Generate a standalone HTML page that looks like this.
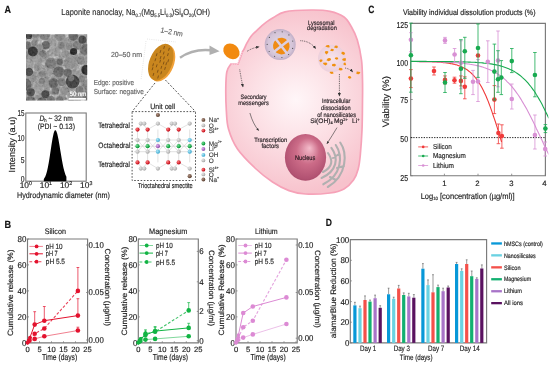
<!DOCTYPE html>
<html><head><meta charset="utf-8"><style>
html,body{margin:0;padding:0;background:#fff;width:550px;height:365px;overflow:hidden}
svg{display:block;font-family:"Liberation Sans", sans-serif}
text{stroke-width:0.16px}
svg{will-change:transform;text-rendering:geometricPrecision}
</style></head><body>
<svg width="550" height="365" viewBox="0 0 550 365">
<text x="4.5" y="12.8" font-size="10.50" text-anchor="start" fill="#111" stroke="#111" font-weight="bold" textLength="6.5" lengthAdjust="spacingAndGlyphs" >A</text>
<text x="4.4" y="227.5" font-size="10.50" text-anchor="start" fill="#111" stroke="#111" font-weight="bold" textLength="6.6" lengthAdjust="spacingAndGlyphs" >B</text>
<text x="368.2" y="12.9" font-size="10.50" text-anchor="start" fill="#111" stroke="#111" font-weight="bold" textLength="6.1" lengthAdjust="spacingAndGlyphs" >C</text>
<text x="325.7" y="226.4" font-size="10.50" text-anchor="start" fill="#111" stroke="#111" font-weight="bold" textLength="6.2" lengthAdjust="spacingAndGlyphs" >D</text>
<text x="61.3" y="14.9" font-size="8.72" fill="#333" stroke="#333" textLength="148.7" lengthAdjust="spacingAndGlyphs">Laponite nanoclay, Na<tspan font-size="4.83" dy="1.6">0.7</tspan><tspan dy="-1.6">(Mg</tspan><tspan font-size="4.83" dy="1.6">5.5</tspan><tspan dy="-1.6">Li</tspan><tspan font-size="4.83" dy="1.6">0.3</tspan><tspan dy="-1.6">)Si</tspan><tspan font-size="4.83" dy="1.6">8</tspan><tspan dy="-1.6">O</tspan><tspan font-size="4.83" dy="1.6">20</tspan><tspan dy="-1.6">(OH)</tspan></text>
<defs><clipPath id="temclip"><rect x="26" y="34.3" width="61.2" height="66.2"/></clipPath>
<filter id="noiseL" x="0" y="0" width="100%" height="100%"><feTurbulence type="fractalNoise" baseFrequency="0.18" numOctaves="3" seed="9"/><feColorMatrix type="matrix" values="0 0 0 0 0.85  0 0 0 0 0.85  0 0 0 0 0.85  3.0 0 0 0 -1.35"/></filter>
<filter id="noiseD" x="0" y="0" width="100%" height="100%"><feTurbulence type="fractalNoise" baseFrequency="0.4" numOctaves="2" seed="3"/><feColorMatrix type="matrix" values="1.6 0 0 0 -0.3  1.6 0 0 0 -0.3  1.6 0 0 0 -0.3  0 0 0 0 0.16"/><feGaussianBlur stdDeviation="0.4"/></filter>
<filter id="blur2" x="-30%" y="-30%" width="160%" height="160%"><feGaussianBlur stdDeviation="0.6"/></filter></defs>
<g clip-path="url(#temclip)">
<rect x="26" y="34.3" width="61.2" height="66.2" fill="#8c8c8c"/>
<rect x="26" y="34.3" width="61.2" height="66.2" filter="url(#noiseL)" opacity="0.75"/>
<g filter="url(#blur2)">
<circle cx="38.3" cy="88.3" r="4.9" fill="rgb(148,148,148)" fill-opacity="0.8" stroke="rgb(165,165,165)" stroke-width="0.7" stroke-opacity="0.5"/>
<circle cx="69.8" cy="63.0" r="6.3" fill="rgb(132,132,132)" fill-opacity="0.8" stroke="rgb(165,165,165)" stroke-width="0.7" stroke-opacity="0.5"/>
<circle cx="50.8" cy="63.4" r="5.8" fill="rgb(100,100,100)" fill-opacity="0.8" stroke="rgb(165,165,165)" stroke-width="0.7" stroke-opacity="0.5"/>
<circle cx="25.5" cy="84.6" r="6.3" fill="rgb(75,75,75)" fill-opacity="0.8" stroke="rgb(165,165,165)" stroke-width="0.7" stroke-opacity="0.5"/>
<circle cx="55.4" cy="90.7" r="3.9" fill="rgb(88,88,88)" fill-opacity="0.8" stroke="rgb(165,165,165)" stroke-width="0.7" stroke-opacity="0.5"/>
<circle cx="56.0" cy="50.9" r="4.5" fill="rgb(148,148,148)" fill-opacity="0.8" stroke="rgb(165,165,165)" stroke-width="0.7" stroke-opacity="0.5"/>
<circle cx="71.4" cy="102.5" r="3.8" fill="rgb(110,110,110)" fill-opacity="0.8" stroke="rgb(165,165,165)" stroke-width="0.7" stroke-opacity="0.5"/>
<circle cx="85.4" cy="49.4" r="5.8" fill="rgb(88,88,88)" fill-opacity="0.8" stroke="rgb(165,165,165)" stroke-width="0.7" stroke-opacity="0.5"/>
<circle cx="88.9" cy="85.0" r="6.2" fill="rgb(110,110,110)" fill-opacity="0.8" stroke="rgb(165,165,165)" stroke-width="0.7" stroke-opacity="0.5"/>
<circle cx="33.2" cy="78.2" r="3.6" fill="rgb(132,132,132)" fill-opacity="0.8" stroke="rgb(165,165,165)" stroke-width="0.7" stroke-opacity="0.5"/>
<circle cx="86.9" cy="95.9" r="4.9" fill="rgb(100,100,100)" fill-opacity="0.8" stroke="rgb(165,165,165)" stroke-width="0.7" stroke-opacity="0.5"/>
<circle cx="50.8" cy="100.1" r="4.3" fill="rgb(88,88,88)" fill-opacity="0.8" stroke="rgb(165,165,165)" stroke-width="0.7" stroke-opacity="0.5"/>
<circle cx="53.5" cy="42.0" r="3.6" fill="rgb(148,148,148)" fill-opacity="0.8" stroke="rgb(165,165,165)" stroke-width="0.7" stroke-opacity="0.5"/>
<circle cx="42.6" cy="53.6" r="3.9" fill="rgb(100,100,100)" fill-opacity="0.8" stroke="rgb(165,165,165)" stroke-width="0.7" stroke-opacity="0.5"/>
<circle cx="73.2" cy="36.0" r="5.0" fill="rgb(75,75,75)" fill-opacity="0.8" stroke="rgb(165,165,165)" stroke-width="0.7" stroke-opacity="0.5"/>
<circle cx="81.1" cy="60.3" r="4.7" fill="rgb(120,120,120)" fill-opacity="0.8" stroke="rgb(165,165,165)" stroke-width="0.7" stroke-opacity="0.5"/>
<circle cx="44.7" cy="35.0" r="5.6" fill="rgb(110,110,110)" fill-opacity="0.8" stroke="rgb(165,165,165)" stroke-width="0.7" stroke-opacity="0.5"/>
<circle cx="60.0" cy="36.3" r="5.2" fill="rgb(120,120,120)" fill-opacity="0.8" stroke="rgb(165,165,165)" stroke-width="0.7" stroke-opacity="0.5"/>
<circle cx="58.7" cy="71.8" r="5.6" fill="rgb(75,75,75)" fill-opacity="0.8" stroke="rgb(165,165,165)" stroke-width="0.7" stroke-opacity="0.5"/>
<circle cx="42.2" cy="73.8" r="3.6" fill="rgb(110,110,110)" fill-opacity="0.8" stroke="rgb(165,165,165)" stroke-width="0.7" stroke-opacity="0.5"/>
<circle cx="64.6" cy="90.6" r="4.7" fill="rgb(132,132,132)" fill-opacity="0.8" stroke="rgb(165,165,165)" stroke-width="0.7" stroke-opacity="0.5"/>
<circle cx="69.0" cy="46.2" r="4.0" fill="rgb(120,120,120)" fill-opacity="0.8" stroke="rgb(165,165,165)" stroke-width="0.7" stroke-opacity="0.5"/>
<circle cx="30.5" cy="101.2" r="5.4" fill="rgb(88,88,88)" fill-opacity="0.8" stroke="rgb(165,165,165)" stroke-width="0.7" stroke-opacity="0.5"/>
<circle cx="77.5" cy="98.4" r="3.6" fill="rgb(132,132,132)" fill-opacity="0.8" stroke="rgb(165,165,165)" stroke-width="0.7" stroke-opacity="0.5"/>
<circle cx="28.8" cy="62.9" r="5.5" fill="rgb(148,148,148)" fill-opacity="0.8" stroke="rgb(165,165,165)" stroke-width="0.7" stroke-opacity="0.5"/>
<circle cx="78.3" cy="73.6" r="3.6" fill="rgb(148,148,148)" fill-opacity="0.8" stroke="rgb(165,165,165)" stroke-width="0.7" stroke-opacity="0.5"/>
<circle cx="53.6" cy="83.0" r="5.2" fill="rgb(75,75,75)" fill-opacity="0.8" stroke="rgb(165,165,165)" stroke-width="0.7" stroke-opacity="0.5"/>
<circle cx="37.7" cy="67.3" r="4.2" fill="rgb(132,132,132)" fill-opacity="0.8" stroke="rgb(165,165,165)" stroke-width="0.7" stroke-opacity="0.5"/>
<circle cx="41.9" cy="81.2" r="3.5" fill="rgb(100,100,100)" fill-opacity="0.8" stroke="rgb(165,165,165)" stroke-width="0.7" stroke-opacity="0.5"/>
<circle cx="27.2" cy="45.3" r="4.1" fill="rgb(88,88,88)" fill-opacity="0.8" stroke="rgb(165,165,165)" stroke-width="0.7" stroke-opacity="0.5"/>
<circle cx="34.4" cy="42.9" r="3.5" fill="rgb(120,120,120)" fill-opacity="0.8" stroke="rgb(165,165,165)" stroke-width="0.7" stroke-opacity="0.5"/>
<circle cx="45.8" cy="45.2" r="4.4" fill="rgb(75,75,75)" fill-opacity="0.8" stroke="rgb(165,165,165)" stroke-width="0.7" stroke-opacity="0.5"/>
<circle cx="65.3" cy="54.2" r="4.3" fill="rgb(132,132,132)" fill-opacity="0.8" stroke="rgb(165,165,165)" stroke-width="0.7" stroke-opacity="0.5"/>
<circle cx="87.9" cy="35.1" r="4.0" fill="rgb(148,148,148)" fill-opacity="0.8" stroke="rgb(165,165,165)" stroke-width="0.7" stroke-opacity="0.5"/>
<circle cx="38.3" cy="60.1" r="4.3" fill="rgb(148,148,148)" fill-opacity="0.8" stroke="rgb(165,165,165)" stroke-width="0.7" stroke-opacity="0.5"/>
<circle cx="59.7" cy="100.1" r="4.0" fill="rgb(88,88,88)" fill-opacity="0.8" stroke="rgb(165,165,165)" stroke-width="0.7" stroke-opacity="0.5"/>
<circle cx="41.8" cy="102.2" r="5.2" fill="rgb(75,75,75)" fill-opacity="0.8" stroke="rgb(165,165,165)" stroke-width="0.7" stroke-opacity="0.5"/>
<circle cx="49.0" cy="72.5" r="3.7" fill="rgb(148,148,148)" fill-opacity="0.8" stroke="rgb(165,165,165)" stroke-width="0.7" stroke-opacity="0.5"/>
<circle cx="76.9" cy="45.1" r="4.4" fill="rgb(110,110,110)" fill-opacity="0.8" stroke="rgb(165,165,165)" stroke-width="0.7" stroke-opacity="0.5"/>
<circle cx="61.1" cy="45.3" r="3.8" fill="rgb(110,110,110)" fill-opacity="0.8" stroke="rgb(165,165,165)" stroke-width="0.7" stroke-opacity="0.5"/>
<circle cx="81.8" cy="78.8" r="3.8" fill="rgb(110,110,110)" fill-opacity="0.8" stroke="rgb(165,165,165)" stroke-width="0.7" stroke-opacity="0.5"/>
<circle cx="88.6" cy="58.8" r="4.1" fill="rgb(132,132,132)" fill-opacity="0.8" stroke="rgb(165,165,165)" stroke-width="0.7" stroke-opacity="0.5"/>
<circle cx="35.2" cy="34.1" r="4.0" fill="rgb(110,110,110)" fill-opacity="0.8" stroke="rgb(165,165,165)" stroke-width="0.7" stroke-opacity="0.5"/>
<circle cx="39.3" cy="47.3" r="3.6" fill="rgb(132,132,132)" fill-opacity="0.8" stroke="rgb(165,165,165)" stroke-width="0.7" stroke-opacity="0.5"/>
<circle cx="79.8" cy="90.1" r="4.1" fill="rgb(100,100,100)" fill-opacity="0.8" stroke="rgb(165,165,165)" stroke-width="0.7" stroke-opacity="0.5"/>
<circle cx="59.7" cy="61.8" r="3.6" fill="rgb(75,75,75)" fill-opacity="0.8" stroke="rgb(165,165,165)" stroke-width="0.7" stroke-opacity="0.5"/>
<circle cx="67.7" cy="72.7" r="4.4" fill="rgb(75,75,75)" fill-opacity="0.8" stroke="rgb(165,165,165)" stroke-width="0.7" stroke-opacity="0.5"/>
<circle cx="70.7" cy="95.9" r="3.5" fill="rgb(132,132,132)" fill-opacity="0.8" stroke="rgb(165,165,165)" stroke-width="0.7" stroke-opacity="0.5"/>
<circle cx="61.7" cy="82.1" r="4.1" fill="rgb(100,100,100)" fill-opacity="0.8" stroke="rgb(165,165,165)" stroke-width="0.7" stroke-opacity="0.5"/>
<circle cx="25.8" cy="54.8" r="3.6" fill="rgb(120,120,120)" fill-opacity="0.8" stroke="rgb(165,165,165)" stroke-width="0.7" stroke-opacity="0.5"/>
<circle cx="28.9" cy="35.9" r="3.2" fill="rgb(50,50,50)"/>
<circle cx="32.8" cy="51.5" r="5" fill="rgb(35,35,35)"/>
<circle cx="73.6" cy="51.5" r="3.6" fill="rgb(25,25,25)"/>
<circle cx="82.4" cy="39.8" r="4" fill="rgb(60,60,60)"/>
<circle cx="86.3" cy="69.9" r="5" fill="rgb(30,30,30)"/>
<circle cx="28.9" cy="71.9" r="4.2" fill="rgb(60,60,60)"/>
<circle cx="72.6" cy="81.6" r="6.8" fill="rgb(50,50,50)"/>
<circle cx="30.8" cy="92.3" r="4" fill="rgb(60,60,60)"/>
<circle cx="45.4" cy="94.3" r="4" fill="rgb(55,55,55)"/>
<circle cx="71" cy="78" r="3.2" fill="#888" opacity="0.6"/>
</g>
<rect x="26" y="34.3" width="61.2" height="66.2" filter="url(#noiseD)"/>
<line x1="68.7" y1="98.8" x2="85.9" y2="98.8" stroke="#fff" stroke-width="1.8"/>
<text x="69.7" y="96.3" font-size="6.30" text-anchor="start" fill="#fff" stroke="#fff" font-weight="normal" textLength="16.6" lengthAdjust="spacingAndGlyphs" >50 nm</text>
</g>
<rect x="25.8" y="113" width="60.4" height="68.2" fill="none" stroke="#7a7a7a" stroke-width="1.1"/>
<polygon points="43.8,181.2 43.80,178.96 44.18,178.46 44.55,177.87 44.93,177.18 45.31,176.38 45.68,175.47 46.06,174.42 46.44,173.23 46.81,171.90 47.19,170.42 47.57,168.79 47.94,167.00 48.32,165.07 48.70,163.00 49.07,160.80 49.45,158.48 49.83,156.07 50.20,153.59 50.58,151.07 50.96,148.54 51.33,146.04 51.71,143.59 52.09,141.24 52.46,139.03 52.84,137.00 53.22,135.17 53.59,133.59 53.97,132.29 54.35,131.28 54.72,130.60 55.10,130.25 55.48,130.23 55.85,130.51 56.23,131.07 56.61,131.91 56.98,133.01 57.36,134.35 57.74,135.91 58.11,137.67 58.49,139.59 58.87,141.66 59.24,143.83 59.62,146.09 60.00,148.39 60.37,150.72 60.75,153.04 61.13,155.34 61.50,157.58 61.88,159.75 62.26,161.83 62.63,163.80 63.01,165.67 63.39,167.41 63.76,169.03 64.14,170.51 64.52,171.87 64.89,173.11 65.27,174.21 65.65,175.21 66.02,176.09 66.40,176.86 66.4,181.2" fill="#000"/>
<text x="24.6" y="115.9" font-size="8.61" text-anchor="end" fill="#222" stroke="#222" font-weight="normal" textLength="7" lengthAdjust="spacingAndGlyphs" >15</text>
<text x="24.6" y="140.5" font-size="8.61" text-anchor="end" fill="#222" stroke="#222" font-weight="normal" textLength="7" lengthAdjust="spacingAndGlyphs" >10</text>
<text x="24.6" y="162.6" font-size="8.61" text-anchor="end" fill="#222" stroke="#222" font-weight="normal" textLength="3.8" lengthAdjust="spacingAndGlyphs" >5</text>
<text x="24.6" y="182.4" font-size="8.61" text-anchor="end" fill="#222" stroke="#222" font-weight="normal" textLength="3.8" lengthAdjust="spacingAndGlyphs" >0</text>
<text x="25.8" y="188.3" font-size="8.40" text-anchor="middle" fill="#222" stroke="#222">10<tspan font-size="5.25" dy="-3.2">0</tspan></text>
<text x="45.9" y="188.3" font-size="8.40" text-anchor="middle" fill="#222" stroke="#222">10<tspan font-size="5.25" dy="-3.2">1</tspan></text>
<text x="66" y="188.3" font-size="8.40" text-anchor="middle" fill="#222" stroke="#222">10<tspan font-size="5.25" dy="-3.2">2</tspan></text>
<text x="86.2" y="188.3" font-size="8.40" text-anchor="middle" fill="#222" stroke="#222">10<tspan font-size="5.25" dy="-3.2">3</tspan></text>
<text x="17" y="197.6" font-size="8.40" text-anchor="start" fill="#222" stroke="#222" font-weight="normal" textLength="93" lengthAdjust="spacingAndGlyphs" >Hydrodynamic diameter (nm)</text>
<text x="0" y="0" font-size="8.82" text-anchor="middle" fill="#222" stroke="#222" textLength="55.8" lengthAdjust="spacingAndGlyphs" transform="translate(14.8,144.5) rotate(-90)">Intensity (a.u)</text>
<text x="39.5" y="120.5" font-size="7.98" fill="#222" stroke="#222" textLength="33.2" lengthAdjust="spacingAndGlyphs"><tspan font-style="italic">D</tspan><tspan font-size="5.04" dy="1.6">h</tspan><tspan dy="-1.6"> ~ 32 nm</tspan></text>
<text x="37.7" y="128.8" font-size="7.77" text-anchor="start" fill="#222" stroke="#222" font-weight="normal" textLength="37.3" lengthAdjust="spacingAndGlyphs" >(PDI ~ 0.13)</text>
<g transform="translate(160.8,62.2) rotate(22)">
<ellipse cx="1.8" cy="0.3" rx="11.5" ry="19.3" fill="#f2a23a"/>
<ellipse cx="0" cy="0" rx="11.3" ry="19.3" fill="#c9861e"/>
<line x1="-2.6" y1="-16.4" x2="-2.3" y2="-13.4" stroke="#6a4010" stroke-width="0.65"/>
<line x1="2.6" y1="-16.5" x2="2.9" y2="-13.5" stroke="#6a4010" stroke-width="0.65"/>
<line x1="-4.5" y1="-11.3" x2="-4.2" y2="-8.3" stroke="#6a4010" stroke-width="0.65"/>
<line x1="-0.9" y1="-11.1" x2="-0.6" y2="-8.1" stroke="#6a4010" stroke-width="0.65"/>
<line x1="3.6" y1="-11.2" x2="3.9" y2="-8.2" stroke="#6a4010" stroke-width="0.65"/>
<line x1="-6.8" y1="-6.9" x2="-6.5" y2="-3.9" stroke="#6a4010" stroke-width="0.65"/>
<line x1="-2.1" y1="-5.8" x2="-1.8" y2="-2.8" stroke="#6a4010" stroke-width="0.65"/>
<line x1="1.2" y1="-6.7" x2="1.5" y2="-3.7" stroke="#6a4010" stroke-width="0.65"/>
<line x1="6.2" y1="-5.6" x2="6.5" y2="-2.6" stroke="#6a4010" stroke-width="0.65"/>
<line x1="-6.1" y1="-1.7" x2="-5.8" y2="1.3" stroke="#6a4010" stroke-width="0.65"/>
<line x1="-1.1" y1="-2.2" x2="-0.8" y2="0.8" stroke="#6a4010" stroke-width="0.65"/>
<line x1="2.8" y1="-1.8" x2="3.1" y2="1.2" stroke="#6a4010" stroke-width="0.65"/>
<line x1="5.5" y1="-2.1" x2="5.8" y2="0.9" stroke="#6a4010" stroke-width="0.65"/>
<line x1="-6.3" y1="3.8" x2="-6.0" y2="6.8" stroke="#6a4010" stroke-width="0.65"/>
<line x1="-2.6" y1="3.4" x2="-2.3" y2="6.4" stroke="#6a4010" stroke-width="0.65"/>
<line x1="2.3" y1="3.1" x2="2.6" y2="6.1" stroke="#6a4010" stroke-width="0.65"/>
<line x1="6.1" y1="2.6" x2="6.4" y2="5.6" stroke="#6a4010" stroke-width="0.65"/>
<line x1="-5.4" y1="7.7" x2="-5.1" y2="10.7" stroke="#6a4010" stroke-width="0.65"/>
<line x1="0.4" y1="8.0" x2="0.7" y2="11.0" stroke="#6a4010" stroke-width="0.65"/>
<line x1="4.2" y1="8.2" x2="4.5" y2="11.2" stroke="#6a4010" stroke-width="0.65"/>
<line x1="-2.4" y1="12.6" x2="-2.1" y2="15.6" stroke="#6a4010" stroke-width="0.65"/>
<line x1="2.9" y1="13.2" x2="3.2" y2="16.2" stroke="#6a4010" stroke-width="0.65"/>
</g>
<path d="M146,41 L141,80" stroke="#ccc" stroke-width="0.5" stroke-dasharray="1,1.2" fill="none"/>
<path d="M147,39 L176,42" stroke="#ccc" stroke-width="0.5" stroke-dasharray="1,1.2" fill="none"/>
<text x="0" y="0" font-size="7.35" fill="#666" stroke="#666" textLength="22.5" lengthAdjust="spacingAndGlyphs" transform="translate(160.3,32.3) rotate(11)">1–2 nm</text>
<text x="110.9" y="56.8" font-size="7.25" text-anchor="start" fill="#666" stroke="#666" font-weight="normal" textLength="31.1" lengthAdjust="spacingAndGlyphs" >20–50 nm</text>
<text x="93.7" y="85" font-size="7.25" text-anchor="start" fill="#666" stroke="#666" font-weight="normal" textLength="40.3" lengthAdjust="spacingAndGlyphs" >Edge: positive</text>
<text x="93.7" y="93.6" font-size="7.25" text-anchor="start" fill="#666" stroke="#666" font-weight="normal" textLength="50.1" lengthAdjust="spacingAndGlyphs" >Surface: negative</text>
<path d="M155,83 L132.1,111.6 M165.4,80 L195.5,111.6" stroke="#555" stroke-width="1" stroke-dasharray="2,1.6" fill="none"/>
<text x="150.3" y="109.3" font-size="7.56" text-anchor="start" fill="#222" stroke="#222" font-weight="normal" textLength="24.8" lengthAdjust="spacingAndGlyphs" >Unit cell</text>
<rect x="132.1" y="111.6" width="63.4" height="68.9" fill="none" stroke="#555" stroke-width="1" stroke-dasharray="1.6,1.6"/>
<defs>
<radialGradient id="atGR" cx="0.35" cy="0.35" r="0.65"><stop offset="0" stop-color="#e8e8e8"/><stop offset="1" stop-color="#a8a8a8"/></radialGradient>
<radialGradient id="atRD" cx="0.35" cy="0.35" r="0.65"><stop offset="0" stop-color="#ff8080"/><stop offset="1" stop-color="#c00010"/></radialGradient>
<radialGradient id="atGN" cx="0.35" cy="0.35" r="0.65"><stop offset="0" stop-color="#70e090"/><stop offset="1" stop-color="#009030"/></radialGradient>
<radialGradient id="atCY" cx="0.35" cy="0.35" r="0.65"><stop offset="0" stop-color="#b0e8f8"/><stop offset="1" stop-color="#3aa8d0"/></radialGradient>
<radialGradient id="atPU" cx="0.35" cy="0.35" r="0.65"><stop offset="0" stop-color="#e0a8f0"/><stop offset="1" stop-color="#9050a8"/></radialGradient>
<radialGradient id="atBR" cx="0.35" cy="0.35" r="0.65"><stop offset="0" stop-color="#b09080"/><stop offset="1" stop-color="#5a4030"/></radialGradient>
</defs>
<path d="M142.5,123.6 L137.5,129.5 M142.5,168.6 L137.5,162.4 M142.5,123.6 L147.6,129.5 M142.5,168.6 L147.6,162.4 M157.9,123.6 L147.6,129.5 M157.9,168.6 L147.6,162.4 M157.9,123.6 L168.2,129.5 M157.9,168.6 L168.2,162.4 M173.4,123.6 L168.2,129.5 M173.4,168.6 L168.2,162.4 M173.4,123.6 L178.7,129.5 M173.4,168.6 L178.7,162.4 M189.7,123.6 L178.7,129.5 M189.7,168.6 L178.7,162.4 M137.5,129.5 L137.5,162.4 M147.6,129.5 L147.6,162.4 M157.9,129.5 L157.9,162.4 M168.2,129.5 L168.2,162.4 M178.7,129.5 L178.7,162.4 M189.7,129.5 L189.7,162.4 M134,140 L194,140 M134,146.2 L194,146.2 M134,151.7 L194,151.7 M137.5,140 L147.6,151.7 M137.5,151.7 L147.6,140 M147.6,140 L157.9,151.7 M147.6,151.7 L157.9,140 M157.9,140 L168.2,151.7 M157.9,151.7 L168.2,140 M168.2,140 L178.7,151.7 M168.2,151.7 L178.7,140 M178.7,140 L189.7,151.7 M178.7,151.7 L189.7,140" stroke="#c4c4c4" stroke-width="0.5" fill="none"/>
<circle cx="157.9" cy="115" r="2.1" fill="url(#atBR)"/>
<circle cx="140.8" cy="123.6" r="2.1" fill="url(#atGR)"/>
<circle cx="140.8" cy="168.6" r="2.1" fill="url(#atGR)"/>
<circle cx="144.3" cy="123.6" r="2.1" fill="url(#atGR)"/>
<circle cx="144.3" cy="168.6" r="2.1" fill="url(#atGR)"/>
<circle cx="157.9" cy="123.6" r="2.1" fill="url(#atGR)"/>
<circle cx="157.9" cy="168.6" r="2.1" fill="url(#atGR)"/>
<circle cx="171.7" cy="123.6" r="2.1" fill="url(#atGR)"/>
<circle cx="171.7" cy="168.6" r="2.1" fill="url(#atGR)"/>
<circle cx="175" cy="123.6" r="2.1" fill="url(#atGR)"/>
<circle cx="175" cy="168.6" r="2.1" fill="url(#atGR)"/>
<circle cx="189.7" cy="123.6" r="2.1" fill="url(#atGR)"/>
<circle cx="189.7" cy="168.6" r="2.1" fill="url(#atGR)"/>
<circle cx="137.5" cy="129.6" r="2.1" fill="url(#atRD)"/>
<circle cx="137.5" cy="162.4" r="2.1" fill="url(#atRD)"/>
<circle cx="147.6" cy="129.6" r="2.1" fill="url(#atRD)"/>
<circle cx="147.6" cy="162.4" r="2.1" fill="url(#atRD)"/>
<circle cx="168.2" cy="129.6" r="2.1" fill="url(#atRD)"/>
<circle cx="168.2" cy="162.4" r="2.1" fill="url(#atRD)"/>
<circle cx="178.7" cy="129.6" r="2.1" fill="url(#atRD)"/>
<circle cx="178.7" cy="162.4" r="2.1" fill="url(#atRD)"/>
<circle cx="137.5" cy="140" r="2.1" fill="url(#atGR)"/>
<circle cx="137.5" cy="151.7" r="2.1" fill="url(#atGR)"/>
<circle cx="137.5" cy="146.2" r="2.1" fill="url(#atGN)"/>
<circle cx="147.6" cy="140" r="2.1" fill="url(#atGR)"/>
<circle cx="147.6" cy="151.7" r="2.1" fill="url(#atGR)"/>
<circle cx="147.6" cy="146.2" r="2.1" fill="url(#atGN)"/>
<circle cx="157.9" cy="140" r="2.1" fill="url(#atCY)"/>
<circle cx="157.9" cy="151.7" r="2.1" fill="url(#atCY)"/>
<circle cx="157.9" cy="146.2" r="2.1" fill="url(#atPU)"/>
<circle cx="168.2" cy="140" r="2.1" fill="url(#atGR)"/>
<circle cx="168.2" cy="151.7" r="2.1" fill="url(#atGR)"/>
<circle cx="168.2" cy="146.2" r="2.1" fill="url(#atGN)"/>
<circle cx="178.7" cy="140" r="2.1" fill="url(#atGR)"/>
<circle cx="178.7" cy="151.7" r="2.1" fill="url(#atGR)"/>
<circle cx="178.7" cy="146.2" r="2.1" fill="url(#atGN)"/>
<circle cx="189.7" cy="140" r="2.1" fill="url(#atCY)"/>
<circle cx="189.7" cy="151.7" r="2.1" fill="url(#atCY)"/>
<circle cx="189.7" cy="146.2" r="2.1" fill="url(#atGN)"/>
<circle cx="189.7" cy="176.2" r="2.1" fill="url(#atBR)"/>
<text x="98.2" y="128.4" font-size="7.77" text-anchor="start" fill="#222" stroke="#222" font-weight="normal" textLength="31.7" lengthAdjust="spacingAndGlyphs" >Tetrahedral</text>
<text x="98.3" y="147.8" font-size="7.77" text-anchor="start" fill="#222" stroke="#222" font-weight="normal" textLength="32.1" lengthAdjust="spacingAndGlyphs" >Octahedral</text>
<text x="98.2" y="166.6" font-size="7.77" text-anchor="start" fill="#222" stroke="#222" font-weight="normal" textLength="31.7" lengthAdjust="spacingAndGlyphs" >Tetrahedral</text>
<text x="137.9" y="188.1" font-size="7.25" text-anchor="start" fill="#222" stroke="#222" font-weight="normal" textLength="54.7" lengthAdjust="spacingAndGlyphs" >Trioctahedral smectite</text>
<circle cx="203.4" cy="119.9" r="1.9" fill="url(#atBR)"/>
<text x="208.8" y="122.2" font-size="6.41" fill="#444" stroke="#444">Na<tspan font-size="3.57" dy="-2.6">+</tspan></text>
<circle cx="203.4" cy="125.4" r="1.9" fill="url(#atGR)"/>
<text x="208.8" y="127.7" font-size="6.41" fill="#444" stroke="#444">O<tspan font-size="3.57" dy="-2.6"></tspan></text>
<circle cx="203.4" cy="130.6" r="1.9" fill="url(#atRD)"/>
<text x="208.8" y="132.9" font-size="6.41" fill="#444" stroke="#444">Si<tspan font-size="3.57" dy="-2.6">4+</tspan></text>
<circle cx="203.4" cy="143.5" r="1.9" fill="url(#atGN)"/>
<text x="208.8" y="145.8" font-size="6.41" fill="#444" stroke="#444">Mg<tspan font-size="3.57" dy="-2.6">2+</tspan></text>
<circle cx="203.4" cy="149" r="1.9" fill="url(#atPU)"/>
<text x="208.8" y="151.3" font-size="6.41" fill="#444" stroke="#444">Li<tspan font-size="3.57" dy="-2.6">+</tspan></text>
<circle cx="203.4" cy="154.9" r="1.9" fill="url(#atCY)"/>
<text x="208.8" y="157.20000000000002" font-size="6.41" fill="#444" stroke="#444">OH<tspan font-size="3.57" dy="-2.6"></tspan></text>
<circle cx="203.4" cy="160.4" r="1.9" fill="url(#atGR)"/>
<text x="208.8" y="162.70000000000002" font-size="6.41" fill="#444" stroke="#444">O<tspan font-size="3.57" dy="-2.6"></tspan></text>
<circle cx="203.4" cy="169.7" r="1.9" fill="url(#atRD)"/>
<text x="208.8" y="172.0" font-size="6.41" fill="#444" stroke="#444">Si<tspan font-size="3.57" dy="-2.6">4+</tspan></text>
<circle cx="203.4" cy="174.4" r="1.9" fill="url(#atGR)"/>
<text x="208.8" y="176.70000000000002" font-size="6.41" fill="#444" stroke="#444">O<tspan font-size="3.57" dy="-2.6"></tspan></text>
<circle cx="203.4" cy="179.5" r="1.9" fill="url(#atBR)"/>
<text x="208.8" y="181.8" font-size="6.41" fill="#444" stroke="#444">Na<tspan font-size="3.57" dy="-2.6">+</tspan></text>
<path d="M180,57.8 Q193,48.5 211,50.3" stroke="#b0b0b0" stroke-width="2.4" fill="none"/>
<polygon points="209.5,45.6 219.6,51.2 209.5,55" fill="#b0b0b0"/>
<defs><radialGradient id="cellg" gradientUnits="userSpaceOnUse" cx="296" cy="100" r="95"><stop offset="0" stop-color="#fff6f8"/><stop offset="0.45" stop-color="#fce0e5"/><stop offset="1" stop-color="#f7c2cc"/></radialGradient>
<radialGradient id="nucg" cx="0.5" cy="0.45" r="0.62" fx="0.6" fy="0.3"><stop offset="0" stop-color="#f4bccb"/><stop offset="0.45" stop-color="#cc6c88"/><stop offset="0.85" stop-color="#b25272"/><stop offset="1" stop-color="#9a405e"/></radialGradient>
<radialGradient id="lys1" cx="0.5" cy="0.5" r="0.5"><stop offset="0" stop-color="#e4dae6"/><stop offset="0.8" stop-color="#d4c4d8"/><stop offset="1" stop-color="#c0aec6"/></radialGradient>
<radialGradient id="lys2" cx="0.5" cy="0.5" r="0.5"><stop offset="0" stop-color="#f8e4ec"/><stop offset="1" stop-color="#ecd0dc"/></radialGradient></defs>
<path d="M230.8,64.2 C228.2,67.6 227.6,68.0 226.8,72.0 C226.0,76.0 225.9,81.7 225.8,88.0 C225.7,94.3 225.9,103.2 226.3,110.0 C226.8,116.8 226.6,122.5 228.5,129.0 C230.4,135.5 233.0,142.4 237.5,149.0 C242.0,155.6 249.7,163.0 255.5,168.5 C261.3,174.0 266.9,178.3 272.5,182.0 C278.1,185.7 283.5,188.6 289.0,190.6 C294.5,192.6 298.7,193.6 305.5,194.0 C312.3,194.4 323.6,193.8 330.0,193.0 C336.4,192.2 340.1,191.2 344.0,189.0 C347.9,186.8 351.1,183.3 353.5,180.0 C355.9,176.7 357.1,173.2 358.2,169.0 C359.3,164.8 359.7,161.5 360.3,155.0 C360.9,148.5 361.6,139.2 362.0,130.0 C362.4,120.8 362.4,108.3 362.5,100.0 C362.6,91.7 362.7,86.7 362.5,80.0 C362.3,73.3 362.4,66.7 361.5,60.0 C360.6,53.3 359.0,45.5 357.3,40.0 C355.6,34.5 353.7,30.8 351.5,27.0 C349.3,23.2 347.6,19.6 344.0,17.0 C340.4,14.4 335.5,12.5 330.0,11.3 C324.5,10.1 318.5,9.9 311.0,10.0 C303.5,10.1 291.2,10.5 285.0,11.8 C278.8,13.1 276.7,15.8 273.5,17.6 C270.3,19.4 268.4,20.6 266.0,22.4 C263.6,24.2 261.2,26.3 258.8,28.6 C256.4,30.9 253.3,33.5 251.3,36.0 C249.3,38.5 248.1,41.0 246.6,43.6 C245.1,46.2 245.2,48.0 242.6,51.4 L238,64.2 Z" fill="url(#cellg)" stroke="#f6a2b8" stroke-width="1.7"/>
<path d="M242.1,52 L237.6,64.2 L231,64.2" stroke="#fff" stroke-width="0.9" stroke-dasharray="0.9,1.1" fill="none"/>
<ellipse cx="231.4" cy="51.3" rx="8.8" ry="7.2" transform="rotate(40 231.4 51.3)" fill="#f28a10"/>
<circle cx="280.2" cy="44.6" r="15.5" fill="url(#lys1)"/>
<circle cx="292.6" cy="48.4" r="0.6" fill="#555"/>
<circle cx="288.6" cy="54.5" r="0.6" fill="#555"/>
<circle cx="281.9" cy="57.5" r="0.6" fill="#555"/>
<circle cx="274.6" cy="56.3" r="0.6" fill="#555"/>
<circle cx="269.2" cy="51.5" r="0.6" fill="#555"/>
<circle cx="267.2" cy="44.4" r="0.6" fill="#555"/>
<circle cx="269.4" cy="37.4" r="0.6" fill="#555"/>
<circle cx="275.0" cy="32.7" r="0.6" fill="#555"/>
<circle cx="282.2" cy="31.8" r="0.6" fill="#555"/>
<circle cx="288.9" cy="34.9" r="0.6" fill="#555"/>
<circle cx="292.7" cy="41.1" r="0.6" fill="#555"/>
<g transform="translate(281.3,46.1) rotate(-38)"><circle r="8.3" fill="#f08c14"/><path d="M-10,0 L10,0 M0,-10 L0,10" stroke="#dccfe0" stroke-width="2.5"/></g>
<circle cx="331.8" cy="58.6" r="13.8" fill="url(#lys2)"/>
<polygon points="329.8,47.3 328.1,47.4 325.3,46.5 326.6,45.2 329.0,45.1" fill="#f0900e"/>
<polygon points="338.0,47.2 336.5,48.2 333.8,47.2 335.6,45.4 337.4,45.7" fill="#f0900e"/>
<polygon points="334.1,50.0 332.6,51.3 330.2,50.7 331.2,48.8 333.2,49.0" fill="#f0900e"/>
<polygon points="328.2,52.7 326.5,54.4 324.8,52.8 325.5,50.9 328.2,51.2" fill="#f0900e"/>
<polygon points="345.2,54.1 343.3,55.1 341.3,53.4 341.9,51.8 344.2,52.0" fill="#f0900e"/>
<polygon points="331.1,60.0 328.7,61.2 326.4,60.2 327.9,58.2 330.3,58.1" fill="#f0900e"/>
<polygon points="338.3,59.0 336.7,59.7 334.7,58.7 335.7,57.2 337.8,57.5" fill="#f0900e"/>
<polygon points="346.0,60.4 344.1,61.0 342.0,59.9 342.9,58.6 345.6,58.0" fill="#f0900e"/>
<polygon points="322.5,61.0 320.6,62.2 319.2,60.7 320.2,59.6 322.2,59.6" fill="#f0900e"/>
<polygon points="327.5,64.1 325.5,65.4 323.2,64.0 323.2,62.7 326.3,62.5" fill="#f0900e"/>
<polygon points="336.2,65.0 334.7,66.6 332.0,66.0 332.3,64.0 334.8,63.8" fill="#f0900e"/>
<polygon points="346.2,64.5 345.2,65.5 343.2,64.3 344.1,62.8 345.3,62.6" fill="#f0900e"/>
<polygon points="342.6,69.9 340.9,70.6 338.7,70.1 339.3,67.8 342.2,68.2" fill="#f0900e"/>
<polygon points="333.6,73.4 331.7,73.9 329.7,72.9 330.0,71.7 332.9,71.8" fill="#f0900e"/>
<polygon points="351.5,78.0 349.6,78.7 347.8,77.6 348.5,76.3 350.3,76.0" fill="#f0900e"/>
<polygon points="359.9,73.2 358.8,74.3 356.4,74.0 356.7,71.6 360.3,71.9" fill="#f0900e"/>
<defs><marker id="ah" viewBox="0 0 6 6" refX="5" refY="3" markerWidth="4.5" markerHeight="4.5" orient="auto"><path d="M0,0.5 L6,3 L0,5.5 Z" fill="#333"/></marker></defs>
<path d="M247,51.4 Q252,48 259,46.8" stroke="#333" stroke-width="0.8" stroke-dasharray="0.9,0.9" fill="none" marker-end="url(#ah)"/>
<path d="M300.3,40.7 Q310,41 315.6,48.5" stroke="#333" stroke-width="0.8" stroke-dasharray="0.9,0.9" fill="none" marker-end="url(#ah)"/>
<path d="M345,68 Q350,69 352.6,71.8" stroke="#333" stroke-width="0.8" stroke-dasharray="0.9,0.9" fill="none" marker-end="url(#ah)"/>
<path d="M239.7,69.5 Q241,78 243,86.8" stroke="#333" stroke-width="0.8" stroke-dasharray="0.9,0.9" fill="none" marker-end="url(#ah)"/>
<path d="M339.4,74 L339.4,96" stroke="#333" stroke-width="0.8" stroke-dasharray="0.9,0.9" fill="none" marker-end="url(#ah)"/>
<path d="M249.9,113 Q253,124 258.6,130.5" stroke="#333" stroke-width="0.6" fill="none" marker-end="url(#ah)"/>
<path d="M337,127.6 Q332,136 327,143.6" stroke="#333" stroke-width="0.6" fill="none" marker-end="url(#ah)"/>
<text x="308" y="24.5" font-size="6.30" text-anchor="start" fill="#2a2226" stroke="#2a2226" font-weight="normal" textLength="26.5" lengthAdjust="spacingAndGlyphs" >Lysosomal</text>
<text x="307.1" y="30.2" font-size="6.30" text-anchor="start" fill="#2a2226" stroke="#2a2226" font-weight="normal" textLength="29.7" lengthAdjust="spacingAndGlyphs" >degradation</text>
<text x="240.5" y="98.6" font-size="6.30" text-anchor="start" fill="#2a2226" stroke="#2a2226" font-weight="normal" textLength="26" lengthAdjust="spacingAndGlyphs" >Secondary</text>
<text x="238.3" y="105" font-size="6.30" text-anchor="start" fill="#2a2226" stroke="#2a2226" font-weight="normal" textLength="30.5" lengthAdjust="spacingAndGlyphs" >messengers</text>
<text x="254.3" y="142.2" font-size="6.30" text-anchor="start" fill="#2a2226" stroke="#2a2226" font-weight="normal" textLength="32.8" lengthAdjust="spacingAndGlyphs" >Transcription</text>
<text x="261.5" y="148.2" font-size="6.30" text-anchor="start" fill="#2a2226" stroke="#2a2226" font-weight="normal" textLength="17.5" lengthAdjust="spacingAndGlyphs" >factors</text>
<text x="321.9" y="103.4" font-size="6.30" text-anchor="start" fill="#2a2226" stroke="#2a2226" font-weight="normal" textLength="28.4" lengthAdjust="spacingAndGlyphs" >Intracellular</text>
<text x="321" y="110.4" font-size="6.30" text-anchor="start" fill="#2a2226" stroke="#2a2226" font-weight="normal" textLength="29.6" lengthAdjust="spacingAndGlyphs" >dissociation</text>
<text x="317.2" y="116.5" font-size="6.30" text-anchor="start" fill="#2a2226" stroke="#2a2226" font-weight="normal" textLength="38.8" lengthAdjust="spacingAndGlyphs" >of nanosilicates</text>
<text x="310.2" y="122.8" font-size="6.62" fill="#2a2226" stroke="#2a2226">Si(OH)<tspan font-size="3.99" dy="1.3">4</tspan><tspan dy="-1.3" dx="1.5">Mg</tspan><tspan font-size="3.99" dy="-2.3">2+</tspan><tspan dy="2.3" dx="4.2">Li</tspan><tspan font-size="3.99" dy="-2.3">+</tspan></text>
<path d="M340.2,142.5 C347,152 348,175 327.8,187 M335.8,145 C343,156 342,175 323.3,184.3 M331.4,147.8 C339,158 337,171 321.6,178 M328,153 C333,160 333,167 323,172 M333,158 L339,154 M337,168 L344,166 M330,177 L336,180" stroke="#b0b0b0" stroke-width="2.1" fill="none" stroke-linecap="round"/>
<ellipse cx="305.5" cy="157.4" rx="20.6" ry="23.4" fill="url(#nucg)"/>
<text x="295" y="159.6" font-size="6.62" text-anchor="start" fill="#2a1a20" stroke="#2a1a20" font-weight="normal" textLength="20.3" lengthAdjust="spacingAndGlyphs" >Nucleus</text>
<path d="M410.7,23.3 L545.4,23.3 L545.4,175.7 L410.7,175.7 Z" fill="none" stroke="#7a7a7a" stroke-width="1.15"/>
<text x="408.1" y="180.7" font-size="8.61" text-anchor="end" fill="#222" stroke="#222" font-weight="normal" textLength="7.8" lengthAdjust="spacingAndGlyphs" >25</text>
<text x="408.1" y="141.6" font-size="8.61" text-anchor="end" fill="#222" stroke="#222" font-weight="normal" textLength="7.8" lengthAdjust="spacingAndGlyphs" >50</text>
<text x="408.1" y="103.2" font-size="8.61" text-anchor="end" fill="#222" stroke="#222" font-weight="normal" textLength="7.8" lengthAdjust="spacingAndGlyphs" >75</text>
<text x="408.1" y="65.8" font-size="8.61" text-anchor="end" fill="#222" stroke="#222" font-weight="normal" textLength="11.6" lengthAdjust="spacingAndGlyphs" >100</text>
<text x="408.1" y="27.6" font-size="8.61" text-anchor="end" fill="#222" stroke="#222" font-weight="normal" textLength="11.6" lengthAdjust="spacingAndGlyphs" >125</text>
<line x1="410.7" y1="175.7" x2="412.7" y2="175.7" stroke="#7a7a7a" stroke-width="0.8"/>
<line x1="410.7" y1="137.6" x2="412.7" y2="137.6" stroke="#7a7a7a" stroke-width="0.8"/>
<line x1="410.7" y1="99.5" x2="412.7" y2="99.5" stroke="#7a7a7a" stroke-width="0.8"/>
<line x1="410.7" y1="61.4" x2="412.7" y2="61.4" stroke="#7a7a7a" stroke-width="0.8"/>
<line x1="410.7" y1="23.3" x2="412.7" y2="23.3" stroke="#7a7a7a" stroke-width="0.8"/>
<text x="444.5" y="186.4" font-size="7.77" text-anchor="middle" fill="#222" stroke="#222" font-weight="normal" >1</text>
<line x1="444.4" y1="175.7" x2="444.4" y2="173.7" stroke="#7a7a7a" stroke-width="0.8"/>
<text x="477.5" y="186.4" font-size="7.77" text-anchor="middle" fill="#222" stroke="#222" font-weight="normal" >2</text>
<line x1="478.0" y1="175.7" x2="478.0" y2="173.7" stroke="#7a7a7a" stroke-width="0.8"/>
<text x="511.3" y="186.4" font-size="7.77" text-anchor="middle" fill="#222" stroke="#222" font-weight="normal" >3</text>
<line x1="511.7" y1="175.7" x2="511.7" y2="173.7" stroke="#7a7a7a" stroke-width="0.8"/>
<text x="544.5" y="186.4" font-size="7.77" text-anchor="middle" fill="#222" stroke="#222" font-weight="normal" >4</text>
<line x1="545.4" y1="175.7" x2="545.4" y2="173.7" stroke="#7a7a7a" stroke-width="0.8"/>
<text x="402.9" y="14.5" font-size="7.88" text-anchor="start" fill="#222" stroke="#222" font-weight="normal" textLength="132.6" lengthAdjust="spacingAndGlyphs" >Viability individual dissolution products (%)</text>
<text x="420.7" y="198.6" font-size="8.40" fill="#222" stroke="#222" textLength="94" lengthAdjust="spacingAndGlyphs">Log<tspan font-size="4.73" dy="1.8">10</tspan><tspan dy="-1.8"> [concentration (µg/ml)]</tspan></text>
<text x="0" y="0" font-size="9.24" text-anchor="middle" fill="#222" stroke="#222" textLength="51.3" lengthAdjust="spacingAndGlyphs" transform="translate(389.1,101.7) rotate(-90)">Viability (%)</text>
<line x1="410.7" y1="137.6" x2="545.4" y2="137.6" stroke="#222" stroke-width="1" stroke-dasharray="1.3,1.3"/>
<defs><clipPath id="cclip"><rect x="407.7" y="20.3" width="140.7" height="155.39999999999998"/></clipPath></defs>
<g clip-path="url(#cclip)">
<polyline points="410.7,61.5 411.6,61.5 412.5,61.5 413.4,61.5 414.3,61.5 415.2,61.5 416.2,61.5 417.1,61.5 418.0,61.5 418.9,61.5 419.8,61.6 420.7,61.6 421.6,61.6 422.5,61.6 423.4,61.6 424.3,61.6 425.2,61.6 426.2,61.7 427.1,61.7 428.0,61.7 428.9,61.7 429.8,61.8 430.7,61.8 431.6,61.8 432.5,61.9 433.4,61.9 434.3,61.9 435.2,62.0 436.2,62.0 437.1,62.1 438.0,62.1 438.9,62.2 439.8,62.3 440.7,62.3 441.6,62.4 442.5,62.5 443.4,62.6 444.3,62.7 445.3,62.8 446.2,62.9 447.1,63.0 448.0,63.1 448.9,63.3 449.8,63.4 450.7,63.6 451.6,63.7 452.5,63.9 453.4,64.1 454.3,64.3 455.3,64.6 456.2,64.8 457.1,65.1 458.0,65.4 458.9,65.7 459.8,66.0 460.7,66.4 461.6,66.8 462.5,67.2 463.4,67.7 464.3,68.2 465.3,68.7 466.2,69.2 467.1,69.8 468.0,70.5 468.9,71.2 469.8,71.9 470.7,72.7 471.6,73.5 472.5,74.4 473.4,75.4 474.3,76.4 475.3,77.5 476.2,78.6 477.1,79.8 478.0,81.1 478.9,82.5 479.8,84.0 480.7,85.5 481.6,87.1 482.5,88.8 483.4,90.6 484.3,92.5 485.3,94.5 486.2,96.5 487.1,98.7 488.0,100.9 488.9,103.2 489.8,105.6 490.7,108.1 491.6,110.6 492.5,113.3 493.4,116.0 494.3,118.7 495.3,121.5 496.2,124.4 497.1,127.2 498.0,130.2 498.9,133.1 499.8,136.1 500.7,139.0 501.6,142.0" fill="none" stroke="#f03a3a" stroke-width="1.1"/>
<polyline points="410.7,61.5 412.1,61.5 413.5,61.5 414.8,61.5 416.2,61.5 417.6,61.6 419.0,61.6 420.4,61.6 421.7,61.6 423.1,61.6 424.5,61.6 425.9,61.6 427.3,61.7 428.6,61.7 430.0,61.7 431.4,61.7 432.8,61.8 434.2,61.8 435.6,61.8 436.9,61.9 438.3,61.9 439.7,61.9 441.1,62.0 442.5,62.0 443.8,62.1 445.2,62.1 446.6,62.2 448.0,62.2 449.4,62.3 450.7,62.4 452.1,62.5 453.5,62.5 454.9,62.6 456.3,62.7 457.6,62.8 459.0,62.9 460.4,63.1 461.8,63.2 463.2,63.3 464.5,63.5 465.9,63.7 467.3,63.9 468.7,64.0 470.1,64.3 471.4,64.5 472.8,64.7 474.2,65.0 475.6,65.3 477.0,65.6 478.4,65.9 479.7,66.2 481.1,66.6 482.5,67.0 483.9,67.5 485.3,67.9 486.6,68.4 488.0,69.0 489.4,69.5 490.8,70.2 492.2,70.8 493.5,71.5 494.9,72.3 496.3,73.1 497.7,73.9 499.1,74.9 500.4,75.8 501.8,76.9 503.2,78.0 504.6,79.2 506.0,80.4 507.3,81.8 508.7,83.2 510.1,84.7 511.5,86.2 512.9,87.9 514.3,89.6 515.6,91.4 517.0,93.3 518.4,95.3 519.8,97.4 521.2,99.6 522.5,101.9 523.9,104.2 525.3,106.6 526.7,109.1 528.1,111.7 529.4,114.3 530.8,117.0 532.2,119.8 533.6,122.6 535.0,125.5 536.3,128.4 537.7,131.3 539.1,134.2 540.5,137.2 541.9,140.1 543.2,143.1 544.6,146.0 546.0,148.9 547.4,151.7 548.8,154.6" fill="none" stroke="#d890d4" stroke-width="1.1"/>
<polyline points="410.7,61.4 412.1,61.4 413.5,61.4 414.8,61.4 416.2,61.4 417.6,61.4 419.0,61.4 420.4,61.4 421.7,61.4 423.1,61.4 424.5,61.4 425.9,61.4 427.3,61.5 428.6,61.5 430.0,61.5 431.4,61.5 432.8,61.5 434.2,61.5 435.6,61.5 436.9,61.5 438.3,61.5 439.7,61.5 441.1,61.5 442.5,61.5 443.8,61.5 445.2,61.6 446.6,61.6 448.0,61.6 449.4,61.6 450.7,61.6 452.1,61.6 453.5,61.7 454.9,61.7 456.3,61.7 457.6,61.7 459.0,61.8 460.4,61.8 461.8,61.8 463.2,61.9 464.5,61.9 465.9,62.0 467.3,62.0 468.7,62.1 470.1,62.1 471.4,62.2 472.8,62.2 474.2,62.3 475.6,62.4 477.0,62.5 478.4,62.6 479.7,62.7 481.1,62.8 482.5,62.9 483.9,63.1 485.3,63.2 486.6,63.4 488.0,63.5 489.4,63.7 490.8,63.9 492.2,64.1 493.5,64.4 494.9,64.6 496.3,64.9 497.7,65.2 499.1,65.5 500.4,65.9 501.8,66.3 503.2,66.7 504.6,67.2 506.0,67.7 507.3,68.2 508.7,68.8 510.1,69.4 511.5,70.0 512.9,70.8 514.3,71.5 515.6,72.4 517.0,73.3 518.4,74.2 519.8,75.3 521.2,76.4 522.5,77.6 523.9,78.8 525.3,80.2 526.7,81.6 528.1,83.2 529.4,84.8 530.8,86.5 532.2,88.4 533.6,90.3 535.0,92.3 536.3,94.5 537.7,96.7 539.1,99.1 540.5,101.6 541.9,104.1 543.2,106.8 544.6,109.5 546.0,112.4 547.4,115.3 548.8,118.3" fill="none" stroke="#18aa50" stroke-width="1.1"/>
<path d="M410.9,32.7 L410.9,51.7 M409.09999999999997,32.7 L412.7,32.7 M409.09999999999997,51.7 L412.7,51.7" stroke="#d890d4" stroke-width="0.8" fill="none"/>
<circle cx="410.9" cy="39.7" r="2.3" fill="#d890d4"/>
<path d="M445,37.4 L445,43.4 M443.2,37.4 L446.8,37.4 M443.2,43.4 L446.8,43.4" stroke="#d890d4" stroke-width="0.8" fill="none"/>
<circle cx="445" cy="40.4" r="2.3" fill="#d890d4"/>
<path d="M454.6,48.5 L454.6,62.5 M452.8,48.5 L456.40000000000003,48.5 M452.8,62.5 L456.40000000000003,62.5" stroke="#d890d4" stroke-width="0.8" fill="none"/>
<circle cx="454.6" cy="54.5" r="2.3" fill="#d890d4"/>
<path d="M460.9,40.8 L460.9,88.8 M459.09999999999997,40.8 L462.7,40.8 M459.09999999999997,88.8 L462.7,88.8" stroke="#d890d4" stroke-width="0.8" fill="none"/>
<circle cx="460.9" cy="62.8" r="2.3" fill="#d890d4"/>
<path d="M473,70.39999999999999 L473,94.6 M471.2,70.39999999999999 L474.8,70.39999999999999 M471.2,94.6 L474.8,94.6" stroke="#d890d4" stroke-width="0.8" fill="none"/>
<circle cx="473" cy="81.8" r="2.3" fill="#d890d4"/>
<path d="M478,59.5 L478,101.5 M476.2,59.5 L479.8,59.5 M476.2,101.5 L479.8,101.5" stroke="#d890d4" stroke-width="0.8" fill="none"/>
<circle cx="478" cy="81.5" r="2.3" fill="#d890d4"/>
<path d="M487.8,40.8 L487.8,82.5 M486.0,40.8 L489.6,40.8 M486.0,82.5 L489.6,82.5" stroke="#d890d4" stroke-width="0.8" fill="none"/>
<circle cx="487.8" cy="61.8" r="2.3" fill="#d890d4"/>
<path d="M498,31.0 L498,86.8 M496.2,31.0 L499.8,31.0 M496.2,86.8 L499.8,86.8" stroke="#d890d4" stroke-width="0.8" fill="none"/>
<circle cx="498" cy="60.5" r="2.3" fill="#d890d4"/>
<path d="M511.8,84 L511.8,109 M510.0,84 L513.6,84 M510.0,109 L513.6,109" stroke="#d890d4" stroke-width="0.8" fill="none"/>
<circle cx="511.8" cy="99" r="2.3" fill="#d890d4"/>
<path d="M534.9,115 L534.9,149 M533.1,115 L536.6999999999999,115 M533.1,149 L536.6999999999999,149" stroke="#d890d4" stroke-width="0.8" fill="none"/>
<circle cx="534.9" cy="135" r="2.3" fill="#d890d4"/>
<path d="M545.2,142 L545.2,156 M543.4000000000001,142 L547.0,142 M543.4000000000001,156 L547.0,156" stroke="#d890d4" stroke-width="0.8" fill="none"/>
<circle cx="545.2" cy="149" r="2.3" fill="#d890d4"/>
<path d="M410.9,69.6 L410.9,87.6 M409.09999999999997,69.6 L412.7,69.6 M409.09999999999997,87.6 L412.7,87.6" stroke="#f03a3a" stroke-width="0.8" fill="none"/>
<circle cx="410.9" cy="78.6" r="2.3" fill="#f03a3a"/>
<path d="M434,67 L434,75 M432.2,67 L435.8,67 M432.2,75 L435.8,75" stroke="#f03a3a" stroke-width="0.8" fill="none"/>
<circle cx="434" cy="71" r="2.3" fill="#f03a3a"/>
<path d="M445,75.9 L445,83.9 M443.2,75.9 L446.8,75.9 M443.2,83.9 L446.8,83.9" stroke="#f03a3a" stroke-width="0.8" fill="none"/>
<circle cx="445" cy="79.9" r="2.3" fill="#f03a3a"/>
<path d="M454.5,77.2 L454.5,83.2 M452.7,77.2 L456.3,77.2 M452.7,83.2 L456.3,83.2" stroke="#f03a3a" stroke-width="0.8" fill="none"/>
<circle cx="454.5" cy="80.2" r="2.3" fill="#f03a3a"/>
<path d="M460.9,75.9 L460.9,85.9 M459.09999999999997,75.9 L462.7,75.9 M459.09999999999997,85.9 L462.7,85.9" stroke="#f03a3a" stroke-width="0.8" fill="none"/>
<circle cx="460.9" cy="80.9" r="2.3" fill="#f03a3a"/>
<path d="M464.8,76.8 L464.8,98.8 M463.0,76.8 L466.6,76.8 M463.0,98.8 L466.6,98.8" stroke="#f03a3a" stroke-width="0.8" fill="none"/>
<circle cx="464.8" cy="86.8" r="2.3" fill="#f03a3a"/>
<circle cx="478" cy="55.5" r="2.3" fill="#f03a3a"/>
<path d="M494.4,85.6 L494.4,113.6 M492.59999999999997,85.6 L496.2,85.6 M492.59999999999997,113.6 L496.2,113.6" stroke="#f03a3a" stroke-width="0.8" fill="none"/>
<circle cx="494.4" cy="99.6" r="2.3" fill="#f03a3a"/>
<path d="M498.4,124 L498.4,143.7 M496.59999999999997,124 L500.2,124 M496.59999999999997,143.7 L500.2,143.7" stroke="#f03a3a" stroke-width="0.8" fill="none"/>
<circle cx="498.4" cy="133" r="2.3" fill="#f03a3a"/>
<path d="M501.9,124.8 L501.9,148.2 M500.09999999999997,124.8 L503.7,124.8 M500.09999999999997,148.2 L503.7,148.2" stroke="#f03a3a" stroke-width="0.8" fill="none"/>
<circle cx="501.9" cy="136" r="2.3" fill="#f03a3a"/>
<path d="M410.9,23.200000000000003 L410.9,92.2 M409.09999999999997,23.200000000000003 L412.7,23.200000000000003 M409.09999999999997,92.2 L412.7,92.2" stroke="#18aa50" stroke-width="0.8" fill="none"/>
<circle cx="410.9" cy="55.2" r="2.3" fill="#18aa50"/>
<path d="M445,72.5 L445,92.5 M443.2,72.5 L446.8,72.5 M443.2,92.5 L446.8,92.5" stroke="#18aa50" stroke-width="0.8" fill="none"/>
<circle cx="445" cy="82.5" r="2.3" fill="#18aa50"/>
<path d="M460.9,39.7 L460.9,93.7 M459.09999999999997,39.7 L462.7,39.7 M459.09999999999997,93.7 L462.7,93.7" stroke="#18aa50" stroke-width="0.8" fill="none"/>
<circle cx="460.9" cy="68.7" r="2.3" fill="#18aa50"/>
<path d="M464.8,37.3 L464.8,78.3 M463.0,37.3 L466.6,37.3 M463.0,78.3 L466.6,78.3" stroke="#18aa50" stroke-width="0.8" fill="none"/>
<circle cx="464.8" cy="51.3" r="2.3" fill="#18aa50"/>
<path d="M478,24 L478,77.4 M476.2,24 L479.8,24 M476.2,77.4 L479.8,77.4" stroke="#18aa50" stroke-width="0.8" fill="none"/>
<circle cx="478" cy="48" r="2.3" fill="#18aa50"/>
<path d="M494.4,44.099999999999994 L494.4,100.0 M492.59999999999997,44.099999999999994 L496.2,44.099999999999994 M492.59999999999997,100.0 L496.2,100.0" stroke="#18aa50" stroke-width="0.8" fill="none"/>
<circle cx="494.4" cy="71.6" r="2.3" fill="#18aa50"/>
<path d="M498,50.7 L498,92.3 M496.2,50.7 L499.8,50.7 M496.2,92.3 L499.8,92.3" stroke="#18aa50" stroke-width="0.8" fill="none"/>
<circle cx="498" cy="79.2" r="2.3" fill="#18aa50"/>
<path d="M501.3,60.599999999999994 L501.3,94.6 M499.5,60.599999999999994 L503.1,60.599999999999994 M499.5,94.6 L503.1,94.6" stroke="#18aa50" stroke-width="0.8" fill="none"/>
<circle cx="501.3" cy="77.6" r="2.3" fill="#18aa50"/>
<path d="M511.8,48.5 L511.8,72.6 M510.0,48.5 L513.6,48.5 M510.0,72.6 L513.6,72.6" stroke="#18aa50" stroke-width="0.8" fill="none"/>
<circle cx="511.8" cy="61.1" r="2.3" fill="#18aa50"/>
<path d="M534.9,52.5 L534.9,96.8 M533.1,52.5 L536.6999999999999,52.5 M533.1,96.8 L536.6999999999999,96.8" stroke="#18aa50" stroke-width="0.8" fill="none"/>
<circle cx="534.9" cy="75" r="2.3" fill="#18aa50"/>
<path d="M545.4,124.6 L545.4,132.6 M543.6,124.6 L547.1999999999999,124.6 M543.6,132.6 L547.1999999999999,132.6" stroke="#18aa50" stroke-width="0.8" fill="none"/>
<circle cx="545.4" cy="128.6" r="2.3" fill="#18aa50"/>
</g>
<line x1="418.2" y1="146.9" x2="428.1" y2="146.9" stroke="#f03a3a" stroke-width="0.8"/><circle cx="423.2" cy="146.9" r="1.3" fill="#f03a3a"/>
<text x="433" y="149.1" font-size="7.14" text-anchor="start" fill="#222" stroke="#222" font-weight="normal" textLength="18.9" lengthAdjust="spacingAndGlyphs" >Silicon</text>
<line x1="418.2" y1="156" x2="428.1" y2="156" stroke="#18aa50" stroke-width="0.8"/><circle cx="423.2" cy="156" r="1.3" fill="#18aa50"/>
<text x="433" y="158.2" font-size="7.14" text-anchor="start" fill="#222" stroke="#222" font-weight="normal" textLength="32.9" lengthAdjust="spacingAndGlyphs" >Magnesium</text>
<line x1="418.2" y1="165.5" x2="428.1" y2="165.5" stroke="#d890d4" stroke-width="0.8"/><circle cx="423.2" cy="165.5" r="1.3" fill="#d890d4"/>
<text x="433" y="167.7" font-size="7.14" text-anchor="start" fill="#222" stroke="#222" font-weight="normal" textLength="21" lengthAdjust="spacingAndGlyphs" >Lithium</text>
<path d="M27.5,239 L87.6,239 L87.6,342.8 L27.5,342.8 Z" fill="none" stroke="#7a7a7a" stroke-width="1.15"/>
<text x="44.7" y="233.8" font-size="7.98" text-anchor="start" fill="#222" stroke="#222" font-weight="normal" textLength="21.2" lengthAdjust="spacingAndGlyphs" >Silicon</text>
<text x="26.5" y="345.8" font-size="8.40" text-anchor="end" fill="#222" stroke="#222" font-weight="normal" textLength="4.4" lengthAdjust="spacingAndGlyphs" >0</text>
<line x1="27.5" y1="342.8" x2="29.0" y2="342.8" stroke="#7a7a7a" stroke-width="0.8"/>
<text x="26.5" y="319.85" font-size="8.40" text-anchor="end" fill="#222" stroke="#222" font-weight="normal" textLength="8.9" lengthAdjust="spacingAndGlyphs" >20</text>
<line x1="27.5" y1="316.9" x2="29.0" y2="316.9" stroke="#7a7a7a" stroke-width="0.8"/>
<text x="26.5" y="293.90000000000003" font-size="8.40" text-anchor="end" fill="#222" stroke="#222" font-weight="normal" textLength="8.9" lengthAdjust="spacingAndGlyphs" >40</text>
<line x1="27.5" y1="290.9" x2="29.0" y2="290.9" stroke="#7a7a7a" stroke-width="0.8"/>
<text x="26.5" y="267.95" font-size="8.40" text-anchor="end" fill="#222" stroke="#222" font-weight="normal" textLength="8.9" lengthAdjust="spacingAndGlyphs" >60</text>
<line x1="27.5" y1="264.9" x2="29.0" y2="264.9" stroke="#7a7a7a" stroke-width="0.8"/>
<text x="26.5" y="242.0" font-size="8.40" text-anchor="end" fill="#222" stroke="#222" font-weight="normal" textLength="8.9" lengthAdjust="spacingAndGlyphs" >80</text>
<line x1="27.5" y1="239.0" x2="29.0" y2="239.0" stroke="#7a7a7a" stroke-width="0.8"/>
<text x="27.5" y="352.2" font-size="7.56" text-anchor="middle" fill="#222" stroke="#222" font-weight="normal" >0</text>
<line x1="27.5" y1="342.8" x2="27.5" y2="341.3" stroke="#7a7a7a" stroke-width="0.8"/>
<text x="39.5" y="352.2" font-size="7.56" text-anchor="middle" fill="#222" stroke="#222" font-weight="normal" >5</text>
<line x1="39.5" y1="342.8" x2="39.5" y2="341.3" stroke="#7a7a7a" stroke-width="0.8"/>
<text x="51.5" y="352.2" font-size="7.56" text-anchor="middle" fill="#222" stroke="#222" font-weight="normal" >10</text>
<line x1="51.5" y1="342.8" x2="51.5" y2="341.3" stroke="#7a7a7a" stroke-width="0.8"/>
<text x="63.5" y="352.2" font-size="7.56" text-anchor="middle" fill="#222" stroke="#222" font-weight="normal" >15</text>
<line x1="63.5" y1="342.8" x2="63.5" y2="341.3" stroke="#7a7a7a" stroke-width="0.8"/>
<text x="75.5" y="352.2" font-size="7.56" text-anchor="middle" fill="#222" stroke="#222" font-weight="normal" >20</text>
<line x1="75.5" y1="342.8" x2="75.5" y2="341.3" stroke="#7a7a7a" stroke-width="0.8"/>
<text x="87.5" y="352.2" font-size="7.56" text-anchor="middle" fill="#222" stroke="#222" font-weight="normal" >25</text>
<line x1="87.5" y1="342.8" x2="87.5" y2="341.3" stroke="#7a7a7a" stroke-width="0.8"/>
<text x="88.6" y="247.9" font-size="8.40" text-anchor="start" fill="#222" stroke="#222" font-weight="normal" textLength="15.2" lengthAdjust="spacingAndGlyphs" >0.10</text>
<line x1="87.6" y1="245" x2="86.1" y2="245" stroke="#7a7a7a" stroke-width="0.8"/>
<text x="88.6" y="295.4" font-size="8.40" text-anchor="start" fill="#222" stroke="#222" font-weight="normal" textLength="15.2" lengthAdjust="spacingAndGlyphs" >0.05</text>
<line x1="87.6" y1="292.5" x2="86.1" y2="292.5" stroke="#7a7a7a" stroke-width="0.8"/>
<text x="88.6" y="342.9" font-size="8.40" text-anchor="start" fill="#222" stroke="#222" font-weight="normal" textLength="15.2" lengthAdjust="spacingAndGlyphs" >0.00</text>
<line x1="87.6" y1="340" x2="86.1" y2="340" stroke="#7a7a7a" stroke-width="0.8"/>
<text x="41.9" y="359.6" font-size="8.61" text-anchor="start" fill="#222" stroke="#222" font-weight="normal" textLength="35.3" lengthAdjust="spacingAndGlyphs" >Time (days)</text>
<text x="0" y="0" font-size="7.77" text-anchor="middle" fill="#222" stroke="#222" textLength="86.4" lengthAdjust="spacingAndGlyphs" transform="translate(13.3,292.8) rotate(-90)">Cumulative release (%)</text>
<text x="0" y="0" font-size="7.77" text-anchor="middle" fill="#222" stroke="#222" textLength="77.4" lengthAdjust="spacingAndGlyphs" transform="translate(105.2,287.3) rotate(90)">Concentration (µg/ml)</text>
<polyline points="27.5,342.8 28.7,341.8 29.9,340.9 34.7,338.9 44.3,336.3 77.9,330.5" fill="none" stroke="#e3122e" stroke-width="0.9" stroke-dasharray="none" stroke-opacity="0.6"/>
<circle cx="27.5" cy="342.8" r="1.8" fill="#e3122e"/>
<circle cx="28.7" cy="341.8" r="1.8" fill="#e3122e"/>
<circle cx="29.9" cy="340.9" r="1.8" fill="#e3122e"/>
<circle cx="34.7" cy="338.9" r="2.3" fill="#e3122e"/>
<circle cx="44.3" cy="336.3" r="2.3" fill="#e3122e"/>
<path d="M77.9,330.5 L77.9,327.2 M76.5,327.2 L79.3,327.2" stroke="#e3122e" stroke-width="0.7"/>
<circle cx="77.9" cy="330.5" r="2.3" fill="#e3122e"/>
<polyline points="27.5,342.8 28.7,340.2 29.9,337.6 34.7,324.6 44.3,320.7 77.9,315.6" fill="none" stroke="#e3122e" stroke-width="1" stroke-dasharray="none" stroke-opacity="1"/>
<circle cx="27.5" cy="342.8" r="1.8" fill="#e3122e"/>
<circle cx="28.7" cy="340.2" r="1.8" fill="#e3122e"/>
<circle cx="29.9" cy="337.6" r="1.8" fill="#e3122e"/>
<path d="M34.7,324.6 L34.7,311.7 M33.3,311.7 L36.1,311.7" stroke="#e3122e" stroke-width="0.7"/>
<circle cx="34.7" cy="324.6" r="2.3" fill="#e3122e"/>
<path d="M44.3,320.7 L44.3,306.5 M42.9,306.5 L45.7,306.5" stroke="#e3122e" stroke-width="0.7"/>
<circle cx="44.3" cy="320.7" r="2.3" fill="#e3122e"/>
<path d="M77.9,315.6 L77.9,298.7 M76.5,298.7 L79.3,298.7" stroke="#e3122e" stroke-width="0.7"/>
<circle cx="77.9" cy="315.6" r="2.3" fill="#e3122e"/>
<polyline points="27.5,342.8 28.7,340.9 29.9,338.9 34.7,333.7 44.3,328.5 77.9,290.9" fill="none" stroke="#e3122e" stroke-width="1.1" stroke-dasharray="2.8,1.8" stroke-opacity="0.8"/>
<circle cx="27.5" cy="342.8" r="1.8" fill="#e3122e"/>
<circle cx="28.7" cy="340.9" r="1.8" fill="#e3122e"/>
<circle cx="29.9" cy="338.9" r="1.8" fill="#e3122e"/>
<circle cx="34.7" cy="333.7" r="2.3" fill="#e3122e"/>
<circle cx="44.3" cy="328.5" r="2.3" fill="#e3122e"/>
<path d="M77.9,290.9 L77.9,267.5 M76.5,267.5 L79.3,267.5" stroke="#e3122e" stroke-width="0.7"/>
<circle cx="77.9" cy="290.9" r="2.3" fill="#e3122e"/>
<line x1="29.4" y1="246.4" x2="42.9" y2="246.4" stroke="#e3122e" stroke-width="0.9" stroke-dasharray="none" stroke-opacity="0.6"/><circle cx="36.6" cy="246.4" r="1.9" fill="#e3122e"/>
<text x="45.8" y="249.0" font-size="7.56" text-anchor="start" fill="#222" stroke="#222" font-weight="normal" textLength="16.8" lengthAdjust="spacingAndGlyphs" >pH 10</text>
<line x1="29.4" y1="253.8" x2="42.9" y2="253.8" stroke="#e3122e" stroke-width="1" stroke-dasharray="none" stroke-opacity="1"/><circle cx="36.6" cy="253.8" r="1.9" fill="#e3122e"/>
<text x="45.8" y="256.40000000000003" font-size="7.56" text-anchor="start" fill="#222" stroke="#222" font-weight="normal" textLength="11.9" lengthAdjust="spacingAndGlyphs" >pH 7</text>
<line x1="29.4" y1="261.7" x2="42.9" y2="261.7" stroke="#e3122e" stroke-width="1.1" stroke-dasharray="2.8,1.8" stroke-opacity="0.8"/><circle cx="36.6" cy="261.7" r="1.9" fill="#e3122e"/>
<text x="45.8" y="264.3" font-size="7.56" text-anchor="start" fill="#222" stroke="#222" font-weight="normal" textLength="19.2" lengthAdjust="spacingAndGlyphs" >pH 5.5</text>
<path d="M138.3,239 L198.3,239 L198.3,342.8 L138.3,342.8 Z" fill="none" stroke="#7a7a7a" stroke-width="1.15"/>
<text x="149.1" y="233.8" font-size="7.98" text-anchor="start" fill="#222" stroke="#222" font-weight="normal" textLength="38.2" lengthAdjust="spacingAndGlyphs" >Magnesium</text>
<text x="137.3" y="345.8" font-size="8.40" text-anchor="end" fill="#222" stroke="#222" font-weight="normal" textLength="4.4" lengthAdjust="spacingAndGlyphs" >0</text>
<line x1="138.3" y1="342.8" x2="139.8" y2="342.8" stroke="#7a7a7a" stroke-width="0.8"/>
<text x="137.3" y="319.85" font-size="8.40" text-anchor="end" fill="#222" stroke="#222" font-weight="normal" textLength="8.9" lengthAdjust="spacingAndGlyphs" >20</text>
<line x1="138.3" y1="316.9" x2="139.8" y2="316.9" stroke="#7a7a7a" stroke-width="0.8"/>
<text x="137.3" y="293.90000000000003" font-size="8.40" text-anchor="end" fill="#222" stroke="#222" font-weight="normal" textLength="8.9" lengthAdjust="spacingAndGlyphs" >40</text>
<line x1="138.3" y1="290.9" x2="139.8" y2="290.9" stroke="#7a7a7a" stroke-width="0.8"/>
<text x="137.3" y="267.95" font-size="8.40" text-anchor="end" fill="#222" stroke="#222" font-weight="normal" textLength="8.9" lengthAdjust="spacingAndGlyphs" >60</text>
<line x1="138.3" y1="264.9" x2="139.8" y2="264.9" stroke="#7a7a7a" stroke-width="0.8"/>
<text x="137.3" y="242.0" font-size="8.40" text-anchor="end" fill="#222" stroke="#222" font-weight="normal" textLength="8.9" lengthAdjust="spacingAndGlyphs" >80</text>
<line x1="138.3" y1="239.0" x2="139.8" y2="239.0" stroke="#7a7a7a" stroke-width="0.8"/>
<text x="138.3" y="352.2" font-size="7.56" text-anchor="middle" fill="#222" stroke="#222" font-weight="normal" >0</text>
<line x1="138.3" y1="342.8" x2="138.3" y2="341.3" stroke="#7a7a7a" stroke-width="0.8"/>
<text x="150.3" y="352.2" font-size="7.56" text-anchor="middle" fill="#222" stroke="#222" font-weight="normal" >5</text>
<line x1="150.3" y1="342.8" x2="150.3" y2="341.3" stroke="#7a7a7a" stroke-width="0.8"/>
<text x="162.3" y="352.2" font-size="7.56" text-anchor="middle" fill="#222" stroke="#222" font-weight="normal" >10</text>
<line x1="162.3" y1="342.8" x2="162.3" y2="341.3" stroke="#7a7a7a" stroke-width="0.8"/>
<text x="174.3" y="352.2" font-size="7.56" text-anchor="middle" fill="#222" stroke="#222" font-weight="normal" >15</text>
<line x1="174.3" y1="342.8" x2="174.3" y2="341.3" stroke="#7a7a7a" stroke-width="0.8"/>
<text x="186.3" y="352.2" font-size="7.56" text-anchor="middle" fill="#222" stroke="#222" font-weight="normal" >20</text>
<line x1="186.3" y1="342.8" x2="186.3" y2="341.3" stroke="#7a7a7a" stroke-width="0.8"/>
<text x="198.3" y="352.2" font-size="7.56" text-anchor="middle" fill="#222" stroke="#222" font-weight="normal" >25</text>
<line x1="198.3" y1="342.8" x2="198.3" y2="341.3" stroke="#7a7a7a" stroke-width="0.8"/>
<text x="199.3" y="254.3" font-size="8.40" text-anchor="start" fill="#222" stroke="#222" font-weight="normal" textLength="4.4" lengthAdjust="spacingAndGlyphs" >6</text>
<line x1="198.3" y1="251.4" x2="196.8" y2="251.4" stroke="#7a7a7a" stroke-width="0.8"/>
<text x="199.3" y="284.7" font-size="8.40" text-anchor="start" fill="#222" stroke="#222" font-weight="normal" textLength="4.4" lengthAdjust="spacingAndGlyphs" >4</text>
<line x1="198.3" y1="281.8" x2="196.8" y2="281.8" stroke="#7a7a7a" stroke-width="0.8"/>
<text x="199.3" y="314.29999999999995" font-size="8.40" text-anchor="start" fill="#222" stroke="#222" font-weight="normal" textLength="4.4" lengthAdjust="spacingAndGlyphs" >2</text>
<line x1="198.3" y1="311.4" x2="196.8" y2="311.4" stroke="#7a7a7a" stroke-width="0.8"/>
<text x="199.3" y="343.59999999999997" font-size="8.40" text-anchor="start" fill="#222" stroke="#222" font-weight="normal" textLength="4.4" lengthAdjust="spacingAndGlyphs" >0</text>
<line x1="198.3" y1="340.7" x2="196.8" y2="340.7" stroke="#7a7a7a" stroke-width="0.8"/>
<text x="152.70000000000002" y="359.6" font-size="8.61" text-anchor="start" fill="#222" stroke="#222" font-weight="normal" textLength="35.3" lengthAdjust="spacingAndGlyphs" >Time (days)</text>
<text x="0" y="0" font-size="7.77" text-anchor="middle" fill="#222" stroke="#222" textLength="88.8" lengthAdjust="spacingAndGlyphs" transform="translate(126.5,291.0) rotate(-90)">Cumulative release (%)</text>
<text x="0" y="0" font-size="7.77" text-anchor="middle" fill="#222" stroke="#222" textLength="76.2" lengthAdjust="spacingAndGlyphs" transform="translate(209.2,288.1) rotate(90)">Concentration (µg/ml)</text>
<polyline points="138.3,342.8 139.5,342.2 140.7,341.5 145.5,339.6 155.1,338.9 188.7,336.3" fill="none" stroke="#12b444" stroke-width="0.9" stroke-dasharray="none" stroke-opacity="0.6"/>
<circle cx="138.3" cy="342.8" r="1.8" fill="#12b444"/>
<circle cx="139.5" cy="342.2" r="1.8" fill="#12b444"/>
<circle cx="140.7" cy="341.5" r="1.8" fill="#12b444"/>
<circle cx="145.5" cy="339.6" r="2.3" fill="#12b444"/>
<circle cx="155.1" cy="338.9" r="2.3" fill="#12b444"/>
<circle cx="188.7" cy="336.3" r="2.3" fill="#12b444"/>
<polyline points="138.3,342.8 139.5,340.2 140.7,338.9 145.5,335.0 155.1,331.1 188.7,327.9" fill="none" stroke="#12b444" stroke-width="1" stroke-dasharray="none" stroke-opacity="1"/>
<circle cx="138.3" cy="342.8" r="1.8" fill="#12b444"/>
<circle cx="139.5" cy="340.2" r="1.8" fill="#12b444"/>
<circle cx="140.7" cy="338.9" r="1.8" fill="#12b444"/>
<path d="M145.5,335.0 L145.5,331.1 M144.1,331.1 L146.9,331.1" stroke="#12b444" stroke-width="0.7"/>
<circle cx="145.5" cy="335.0" r="2.3" fill="#12b444"/>
<path d="M155.1,331.1 L155.1,327.2 M153.7,327.2 L156.5,327.2" stroke="#12b444" stroke-width="0.7"/>
<circle cx="155.1" cy="331.1" r="2.3" fill="#12b444"/>
<path d="M188.7,327.9 L188.7,323.3 M187.3,323.3 L190.1,323.3" stroke="#12b444" stroke-width="0.7"/>
<circle cx="188.7" cy="327.9" r="2.3" fill="#12b444"/>
<polyline points="138.3,342.8 139.5,340.9 140.7,338.9 145.5,333.7 155.1,331.8 188.7,310.4" fill="none" stroke="#12b444" stroke-width="1.1" stroke-dasharray="2.8,1.8" stroke-opacity="0.8"/>
<circle cx="138.3" cy="342.8" r="1.8" fill="#12b444"/>
<circle cx="139.5" cy="340.9" r="1.8" fill="#12b444"/>
<circle cx="140.7" cy="338.9" r="1.8" fill="#12b444"/>
<path d="M145.5,333.7 L145.5,329.8 M144.1,329.8 L146.9,329.8" stroke="#12b444" stroke-width="0.7"/>
<circle cx="145.5" cy="333.7" r="2.3" fill="#12b444"/>
<path d="M155.1,331.8 L155.1,326.6 M153.7,326.6 L156.5,326.6" stroke="#12b444" stroke-width="0.7"/>
<circle cx="155.1" cy="331.8" r="2.3" fill="#12b444"/>
<path d="M188.7,310.4 L188.7,302.6 M187.3,302.6 L190.1,302.6" stroke="#12b444" stroke-width="0.7"/>
<circle cx="188.7" cy="310.4" r="2.3" fill="#12b444"/>
<line x1="139.5" y1="245.5" x2="153.0" y2="245.5" stroke="#12b444" stroke-width="0.9" stroke-dasharray="none" stroke-opacity="0.6"/><circle cx="146.7" cy="245.5" r="1.9" fill="#12b444"/>
<text x="155.9" y="248.1" font-size="7.56" text-anchor="start" fill="#222" stroke="#222" font-weight="normal" textLength="16.8" lengthAdjust="spacingAndGlyphs" >pH 10</text>
<line x1="139.5" y1="253.1" x2="153.0" y2="253.1" stroke="#12b444" stroke-width="1" stroke-dasharray="none" stroke-opacity="1"/><circle cx="146.7" cy="253.1" r="1.9" fill="#12b444"/>
<text x="155.9" y="255.7" font-size="7.56" text-anchor="start" fill="#222" stroke="#222" font-weight="normal" textLength="11.9" lengthAdjust="spacingAndGlyphs" >pH 7</text>
<line x1="139.5" y1="262" x2="153.0" y2="262" stroke="#12b444" stroke-width="1.1" stroke-dasharray="2.8,1.8" stroke-opacity="0.8"/><circle cx="146.7" cy="262" r="1.9" fill="#12b444"/>
<text x="155.9" y="264.6" font-size="7.56" text-anchor="start" fill="#222" stroke="#222" font-weight="normal" textLength="19.2" lengthAdjust="spacingAndGlyphs" >pH 5.5</text>
<path d="M236,239 L297.2,239 L297.2,342.8 L236,342.8 Z" fill="none" stroke="#7a7a7a" stroke-width="1.15"/>
<text x="255" y="233.8" font-size="7.98" text-anchor="start" fill="#222" stroke="#222" font-weight="normal" textLength="22.7" lengthAdjust="spacingAndGlyphs" >Lithium</text>
<text x="235" y="345.8" font-size="8.40" text-anchor="end" fill="#222" stroke="#222" font-weight="normal" textLength="4.4" lengthAdjust="spacingAndGlyphs" >0</text>
<line x1="236" y1="342.8" x2="237.5" y2="342.8" stroke="#7a7a7a" stroke-width="0.8"/>
<text x="235" y="319.85" font-size="8.40" text-anchor="end" fill="#222" stroke="#222" font-weight="normal" textLength="8.9" lengthAdjust="spacingAndGlyphs" >20</text>
<line x1="236" y1="316.9" x2="237.5" y2="316.9" stroke="#7a7a7a" stroke-width="0.8"/>
<text x="235" y="293.90000000000003" font-size="8.40" text-anchor="end" fill="#222" stroke="#222" font-weight="normal" textLength="8.9" lengthAdjust="spacingAndGlyphs" >40</text>
<line x1="236" y1="290.9" x2="237.5" y2="290.9" stroke="#7a7a7a" stroke-width="0.8"/>
<text x="235" y="267.95" font-size="8.40" text-anchor="end" fill="#222" stroke="#222" font-weight="normal" textLength="8.9" lengthAdjust="spacingAndGlyphs" >60</text>
<line x1="236" y1="264.9" x2="237.5" y2="264.9" stroke="#7a7a7a" stroke-width="0.8"/>
<text x="235" y="242.0" font-size="8.40" text-anchor="end" fill="#222" stroke="#222" font-weight="normal" textLength="8.9" lengthAdjust="spacingAndGlyphs" >80</text>
<line x1="236" y1="239.0" x2="237.5" y2="239.0" stroke="#7a7a7a" stroke-width="0.8"/>
<text x="236.0" y="352.2" font-size="7.56" text-anchor="middle" fill="#222" stroke="#222" font-weight="normal" >0</text>
<line x1="236.0" y1="342.8" x2="236.0" y2="341.3" stroke="#7a7a7a" stroke-width="0.8"/>
<text x="248.0" y="352.2" font-size="7.56" text-anchor="middle" fill="#222" stroke="#222" font-weight="normal" >5</text>
<line x1="248.0" y1="342.8" x2="248.0" y2="341.3" stroke="#7a7a7a" stroke-width="0.8"/>
<text x="260.0" y="352.2" font-size="7.56" text-anchor="middle" fill="#222" stroke="#222" font-weight="normal" >10</text>
<line x1="260.0" y1="342.8" x2="260.0" y2="341.3" stroke="#7a7a7a" stroke-width="0.8"/>
<text x="272.0" y="352.2" font-size="7.56" text-anchor="middle" fill="#222" stroke="#222" font-weight="normal" >15</text>
<line x1="272.0" y1="342.8" x2="272.0" y2="341.3" stroke="#7a7a7a" stroke-width="0.8"/>
<text x="284.0" y="352.2" font-size="7.56" text-anchor="middle" fill="#222" stroke="#222" font-weight="normal" >20</text>
<line x1="284.0" y1="342.8" x2="284.0" y2="341.3" stroke="#7a7a7a" stroke-width="0.8"/>
<text x="296.0" y="352.2" font-size="7.56" text-anchor="middle" fill="#222" stroke="#222" font-weight="normal" >25</text>
<line x1="296.0" y1="342.8" x2="296.0" y2="341.3" stroke="#7a7a7a" stroke-width="0.8"/>
<text x="298.2" y="247.9" font-size="8.40" text-anchor="start" fill="#222" stroke="#222" font-weight="normal" textLength="15.2" lengthAdjust="spacingAndGlyphs" >0.10</text>
<line x1="297.2" y1="245" x2="295.7" y2="245" stroke="#7a7a7a" stroke-width="0.8"/>
<text x="298.2" y="295.4" font-size="8.40" text-anchor="start" fill="#222" stroke="#222" font-weight="normal" textLength="15.2" lengthAdjust="spacingAndGlyphs" >0.05</text>
<line x1="297.2" y1="292.5" x2="295.7" y2="292.5" stroke="#7a7a7a" stroke-width="0.8"/>
<text x="298.2" y="341.09999999999997" font-size="8.40" text-anchor="start" fill="#222" stroke="#222" font-weight="normal" textLength="15.2" lengthAdjust="spacingAndGlyphs" >0.00</text>
<line x1="297.2" y1="338.2" x2="295.7" y2="338.2" stroke="#7a7a7a" stroke-width="0.8"/>
<text x="250.4" y="359.6" font-size="8.61" text-anchor="start" fill="#222" stroke="#222" font-weight="normal" textLength="35.3" lengthAdjust="spacingAndGlyphs" >Time (days)</text>
<text x="0" y="0" font-size="7.77" text-anchor="middle" fill="#222" stroke="#222" textLength="91.0" lengthAdjust="spacingAndGlyphs" transform="translate(223.9,289.9) rotate(-90)">Cumulative Release (%)</text>
<text x="0" y="0" font-size="7.77" text-anchor="middle" fill="#222" stroke="#222" textLength="77.6" lengthAdjust="spacingAndGlyphs" transform="translate(314.6,288.8) rotate(90)">Concentration (µg/ml)</text>
<polyline points="236.0,342.8 237.2,340.9 238.4,340.2 243.2,337.6 252.8,334.4 286.4,324.0" fill="none" stroke="#dc8ad4" stroke-width="0.9" stroke-dasharray="none" stroke-opacity="0.6"/>
<circle cx="236.0" cy="342.8" r="1.8" fill="#dc8ad4"/>
<circle cx="237.2" cy="340.9" r="1.8" fill="#dc8ad4"/>
<circle cx="238.4" cy="340.2" r="1.8" fill="#dc8ad4"/>
<circle cx="243.2" cy="337.6" r="2.3" fill="#dc8ad4"/>
<circle cx="252.8" cy="334.4" r="2.3" fill="#dc8ad4"/>
<circle cx="286.4" cy="324.0" r="2.3" fill="#dc8ad4"/>
<polyline points="236.0,342.8 237.2,338.9 238.4,335.0 243.2,313.0 252.8,306.5 286.4,297.4" fill="none" stroke="#dc8ad4" stroke-width="1" stroke-dasharray="none" stroke-opacity="1"/>
<circle cx="236.0" cy="342.8" r="1.8" fill="#dc8ad4"/>
<circle cx="237.2" cy="338.9" r="1.8" fill="#dc8ad4"/>
<circle cx="238.4" cy="335.0" r="1.8" fill="#dc8ad4"/>
<circle cx="243.2" cy="313.0" r="2.3" fill="#dc8ad4"/>
<circle cx="252.8" cy="306.5" r="2.3" fill="#dc8ad4"/>
<circle cx="286.4" cy="297.4" r="2.3" fill="#dc8ad4"/>
<polyline points="236.0,342.8 237.2,340.2 238.4,337.6 243.2,327.2 252.8,320.7 286.4,259.8" fill="none" stroke="#dc8ad4" stroke-width="1.1" stroke-dasharray="2.8,1.8" stroke-opacity="0.8"/>
<circle cx="236.0" cy="342.8" r="1.8" fill="#dc8ad4"/>
<circle cx="237.2" cy="340.2" r="1.8" fill="#dc8ad4"/>
<circle cx="238.4" cy="337.6" r="1.8" fill="#dc8ad4"/>
<circle cx="243.2" cy="327.2" r="2.3" fill="#dc8ad4"/>
<circle cx="252.8" cy="320.7" r="2.3" fill="#dc8ad4"/>
<circle cx="286.4" cy="259.8" r="2.3" fill="#dc8ad4"/>
<line x1="238.3" y1="245.5" x2="251.8" y2="245.5" stroke="#dc8ad4" stroke-width="0.9" stroke-dasharray="none" stroke-opacity="0.6"/><circle cx="245.5" cy="245.5" r="1.9" fill="#dc8ad4"/>
<text x="254.70000000000002" y="248.1" font-size="7.56" text-anchor="start" fill="#222" stroke="#222" font-weight="normal" textLength="16.8" lengthAdjust="spacingAndGlyphs" >pH 10</text>
<line x1="238.3" y1="253.1" x2="251.8" y2="253.1" stroke="#dc8ad4" stroke-width="1" stroke-dasharray="none" stroke-opacity="1"/><circle cx="245.5" cy="253.1" r="1.9" fill="#dc8ad4"/>
<text x="254.70000000000002" y="255.7" font-size="7.56" text-anchor="start" fill="#222" stroke="#222" font-weight="normal" textLength="11.9" lengthAdjust="spacingAndGlyphs" >pH 7</text>
<line x1="238.3" y1="261.5" x2="251.8" y2="261.5" stroke="#dc8ad4" stroke-width="1.1" stroke-dasharray="2.8,1.8" stroke-opacity="0.8"/><circle cx="245.5" cy="261.5" r="1.9" fill="#dc8ad4"/>
<text x="254.70000000000002" y="264.1" font-size="7.56" text-anchor="start" fill="#222" stroke="#222" font-weight="normal" textLength="19.2" lengthAdjust="spacingAndGlyphs" >pH 5.5</text>
<path d="M350.3,239.6 L486.6,239.6 L486.6,342.9 L350.3,342.9 Z" fill="none" stroke="#7a7a7a" stroke-width="1.15"/>
<text x="349.3" y="345.9" font-size="8.40" text-anchor="end" fill="#222" stroke="#222" font-weight="normal" textLength="4.4" lengthAdjust="spacingAndGlyphs" >0</text>
<line x1="350.3" y1="342.9" x2="351.8" y2="342.9" stroke="#7a7a7a" stroke-width="0.8"/>
<text x="349.3" y="325.24" font-size="8.40" text-anchor="end" fill="#222" stroke="#222" font-weight="normal" textLength="8.9" lengthAdjust="spacingAndGlyphs" >20</text>
<line x1="350.3" y1="322.2" x2="351.8" y2="322.2" stroke="#7a7a7a" stroke-width="0.8"/>
<text x="349.3" y="304.58" font-size="8.40" text-anchor="end" fill="#222" stroke="#222" font-weight="normal" textLength="8.9" lengthAdjust="spacingAndGlyphs" >40</text>
<line x1="350.3" y1="301.6" x2="351.8" y2="301.6" stroke="#7a7a7a" stroke-width="0.8"/>
<text x="349.3" y="283.91999999999996" font-size="8.40" text-anchor="end" fill="#222" stroke="#222" font-weight="normal" textLength="8.9" lengthAdjust="spacingAndGlyphs" >60</text>
<line x1="350.3" y1="280.9" x2="351.8" y2="280.9" stroke="#7a7a7a" stroke-width="0.8"/>
<text x="349.3" y="263.26" font-size="8.40" text-anchor="end" fill="#222" stroke="#222" font-weight="normal" textLength="8.9" lengthAdjust="spacingAndGlyphs" >80</text>
<line x1="350.3" y1="260.3" x2="351.8" y2="260.3" stroke="#7a7a7a" stroke-width="0.8"/>
<text x="349.3" y="242.6" font-size="8.40" text-anchor="end" fill="#222" stroke="#222" font-weight="normal" textLength="13.3" lengthAdjust="spacingAndGlyphs" >100</text>
<line x1="350.3" y1="239.6" x2="351.8" y2="239.6" stroke="#7a7a7a" stroke-width="0.8"/>
<path d="M354.9,305.4 L354.9,302.3 M354.0,302.3 L355.8,302.3" stroke="#555" stroke-width="0.6"/>
<rect x="353.3" y="305.4" width="3.2" height="37.5" fill="#0898d8"/>
<path d="M360.0,308.2 L360.0,306.1 M359.1,306.1 L360.9,306.1" stroke="#555" stroke-width="0.6"/>
<rect x="358.4" y="308.2" width="3.2" height="34.7" fill="#6ad2e2"/>
<path d="M365.0,300.0 L365.0,295.9 M364.1,295.9 L365.9,295.9" stroke="#555" stroke-width="0.6"/>
<rect x="363.4" y="300.0" width="3.2" height="42.9" fill="#f4504a"/>
<path d="M370.1,301.6 L370.1,300.0 M369.1,300.0 L370.9,300.0" stroke="#555" stroke-width="0.6"/>
<rect x="368.4" y="301.6" width="3.2" height="41.3" fill="#12b070"/>
<path d="M375.1,298.2 L375.1,295.1 M374.2,295.1 L376.0,295.1" stroke="#555" stroke-width="0.6"/>
<rect x="373.5" y="298.2" width="3.2" height="44.7" fill="#a874c8"/>
<path d="M380.2,307.8 L380.2,305.7 M379.2,305.7 L381.1,305.7" stroke="#555" stroke-width="0.6"/>
<rect x="378.6" y="307.8" width="3.2" height="35.1" fill="#5a1260"/>
<path d="M388.6,294.3 L388.6,288.2 M387.7,288.2 L389.5,288.2" stroke="#555" stroke-width="0.6"/>
<rect x="387.0" y="294.3" width="3.2" height="48.6" fill="#0898d8"/>
<path d="M393.7,298.8 L393.7,297.2 M392.8,297.2 L394.6,297.2" stroke="#555" stroke-width="0.6"/>
<rect x="392.1" y="298.8" width="3.2" height="44.1" fill="#6ad2e2"/>
<path d="M398.7,288.5 L398.7,285.4 M397.8,285.4 L399.6,285.4" stroke="#555" stroke-width="0.6"/>
<rect x="397.1" y="288.5" width="3.2" height="54.4" fill="#f4504a"/>
<path d="M403.8,295.0 L403.8,292.9 M402.8,292.9 L404.6,292.9" stroke="#555" stroke-width="0.6"/>
<rect x="402.1" y="295.0" width="3.2" height="47.9" fill="#12b070"/>
<path d="M408.8,296.4 L408.8,293.3 M407.9,293.3 L409.7,293.3" stroke="#555" stroke-width="0.6"/>
<rect x="407.2" y="296.4" width="3.2" height="46.5" fill="#a874c8"/>
<path d="M413.9,297.7 L413.9,294.6 M412.9,294.6 L414.8,294.6" stroke="#555" stroke-width="0.6"/>
<rect x="412.2" y="297.7" width="3.2" height="45.2" fill="#5a1260"/>
<path d="M422.9,268.7 L422.9,263.6 M422.0,263.6 L423.8,263.6" stroke="#555" stroke-width="0.6"/>
<rect x="421.3" y="268.7" width="3.2" height="74.2" fill="#0898d8"/>
<path d="M428.0,285.1 L428.0,279.9 M427.1,279.9 L428.9,279.9" stroke="#555" stroke-width="0.6"/>
<rect x="426.4" y="285.1" width="3.2" height="57.8" fill="#6ad2e2"/>
<path d="M433.0,292.3 L433.0,274.7 M432.1,274.7 L433.9,274.7" stroke="#555" stroke-width="0.6"/>
<rect x="431.4" y="292.3" width="3.2" height="50.6" fill="#f4504a"/>
<path d="M438.1,287.1 L438.1,285.1 M437.1,285.1 L438.9,285.1" stroke="#555" stroke-width="0.6"/>
<rect x="436.4" y="287.1" width="3.2" height="55.8" fill="#12b070"/>
<path d="M443.1,291.2 L443.1,288.2 M442.2,288.2 L444.0,288.2" stroke="#555" stroke-width="0.6"/>
<rect x="441.5" y="291.2" width="3.2" height="51.6" fill="#a874c8"/>
<path d="M448.2,287.5 L448.2,286.0 M447.2,286.0 L449.1,286.0" stroke="#555" stroke-width="0.6"/>
<rect x="446.6" y="287.5" width="3.2" height="55.4" fill="#5a1260"/>
<path d="M456.6,264.0 L456.6,262.4 M455.7,262.4 L457.5,262.4" stroke="#555" stroke-width="0.6"/>
<rect x="455.0" y="264.0" width="3.2" height="78.9" fill="#0898d8"/>
<path d="M461.7,270.9 L461.7,268.8 M460.8,268.8 L462.6,268.8" stroke="#555" stroke-width="0.6"/>
<rect x="460.1" y="270.9" width="3.2" height="72.0" fill="#6ad2e2"/>
<path d="M466.7,264.0 L466.7,259.8 M465.8,259.8 L467.6,259.8" stroke="#555" stroke-width="0.6"/>
<rect x="465.1" y="264.0" width="3.2" height="78.9" fill="#f4504a"/>
<path d="M471.8,276.2 L471.8,271.0 M470.8,271.0 L472.6,271.0" stroke="#555" stroke-width="0.6"/>
<rect x="470.1" y="276.2" width="3.2" height="66.7" fill="#12b070"/>
<path d="M476.8,278.9 L476.8,277.8 M475.9,277.8 L477.7,277.8" stroke="#555" stroke-width="0.6"/>
<rect x="475.2" y="278.9" width="3.2" height="64.0" fill="#a874c8"/>
<path d="M481.9,268.5 L481.9,264.9 M480.9,264.9 L482.8,264.9" stroke="#555" stroke-width="0.6"/>
<rect x="480.2" y="268.5" width="3.2" height="74.4" fill="#5a1260"/>
<text x="368.1" y="350.5" font-size="7.77" text-anchor="middle" fill="#222" stroke="#222" font-weight="normal" textLength="16.3" lengthAdjust="spacingAndGlyphs" >Day 1</text>
<text x="401.8" y="350.5" font-size="7.77" text-anchor="middle" fill="#222" stroke="#222" font-weight="normal" textLength="16.3" lengthAdjust="spacingAndGlyphs" >Day 3</text>
<text x="436.1" y="350.5" font-size="7.77" text-anchor="middle" fill="#222" stroke="#222" font-weight="normal" textLength="16.3" lengthAdjust="spacingAndGlyphs" >Day 7</text>
<text x="469.8" y="350.5" font-size="7.77" text-anchor="middle" fill="#222" stroke="#222" font-weight="normal" textLength="20" lengthAdjust="spacingAndGlyphs" >Day 14</text>
<text x="399.8" y="360.2" font-size="7.98" text-anchor="start" fill="#222" stroke="#222" font-weight="normal" textLength="32.7" lengthAdjust="spacingAndGlyphs" >Time (days)</text>
<text x="0" y="0" font-size="7.98" text-anchor="middle" fill="#222" stroke="#222" textLength="94.7" lengthAdjust="spacingAndGlyphs" transform="translate(335.9,290.8) rotate(-90)">alamarBlue Reduction (%)</text>
<rect x="491.2" y="242.3" width="10.7" height="2.3" fill="#0898d8"/>
<text x="504" y="245.6" font-size="6.30" text-anchor="start" fill="#222" stroke="#222" font-weight="normal" textLength="38.9" lengthAdjust="spacingAndGlyphs" >hMSCs (control)</text>
<rect x="491.2" y="254.2" width="10.7" height="2.3" fill="#6ad2e2"/>
<text x="504" y="257.55" font-size="6.30" text-anchor="start" fill="#222" stroke="#222" font-weight="normal" textLength="31.8" lengthAdjust="spacingAndGlyphs" >Nanosilicates</text>
<rect x="491.2" y="266.2" width="10.7" height="2.3" fill="#f4504a"/>
<text x="504" y="269.5" font-size="6.30" text-anchor="start" fill="#222" stroke="#222" font-weight="normal" textLength="16.5" lengthAdjust="spacingAndGlyphs" >Silicon</text>
<rect x="491.2" y="278.1" width="10.7" height="2.3" fill="#12b070"/>
<text x="504" y="281.45" font-size="6.30" text-anchor="start" fill="#222" stroke="#222" font-weight="normal" textLength="27" lengthAdjust="spacingAndGlyphs" >Magnesium</text>
<rect x="491.2" y="290.1" width="10.7" height="2.3" fill="#a874c8"/>
<text x="504" y="293.4" font-size="6.30" text-anchor="start" fill="#222" stroke="#222" font-weight="normal" textLength="18" lengthAdjust="spacingAndGlyphs" >Lithium</text>
<rect x="491.2" y="302.0" width="10.7" height="2.3" fill="#5a1260"/>
<text x="504" y="305.34999999999997" font-size="6.30" text-anchor="start" fill="#222" stroke="#222" font-weight="normal" textLength="19" lengthAdjust="spacingAndGlyphs" >All ions</text>
</svg></body></html>
